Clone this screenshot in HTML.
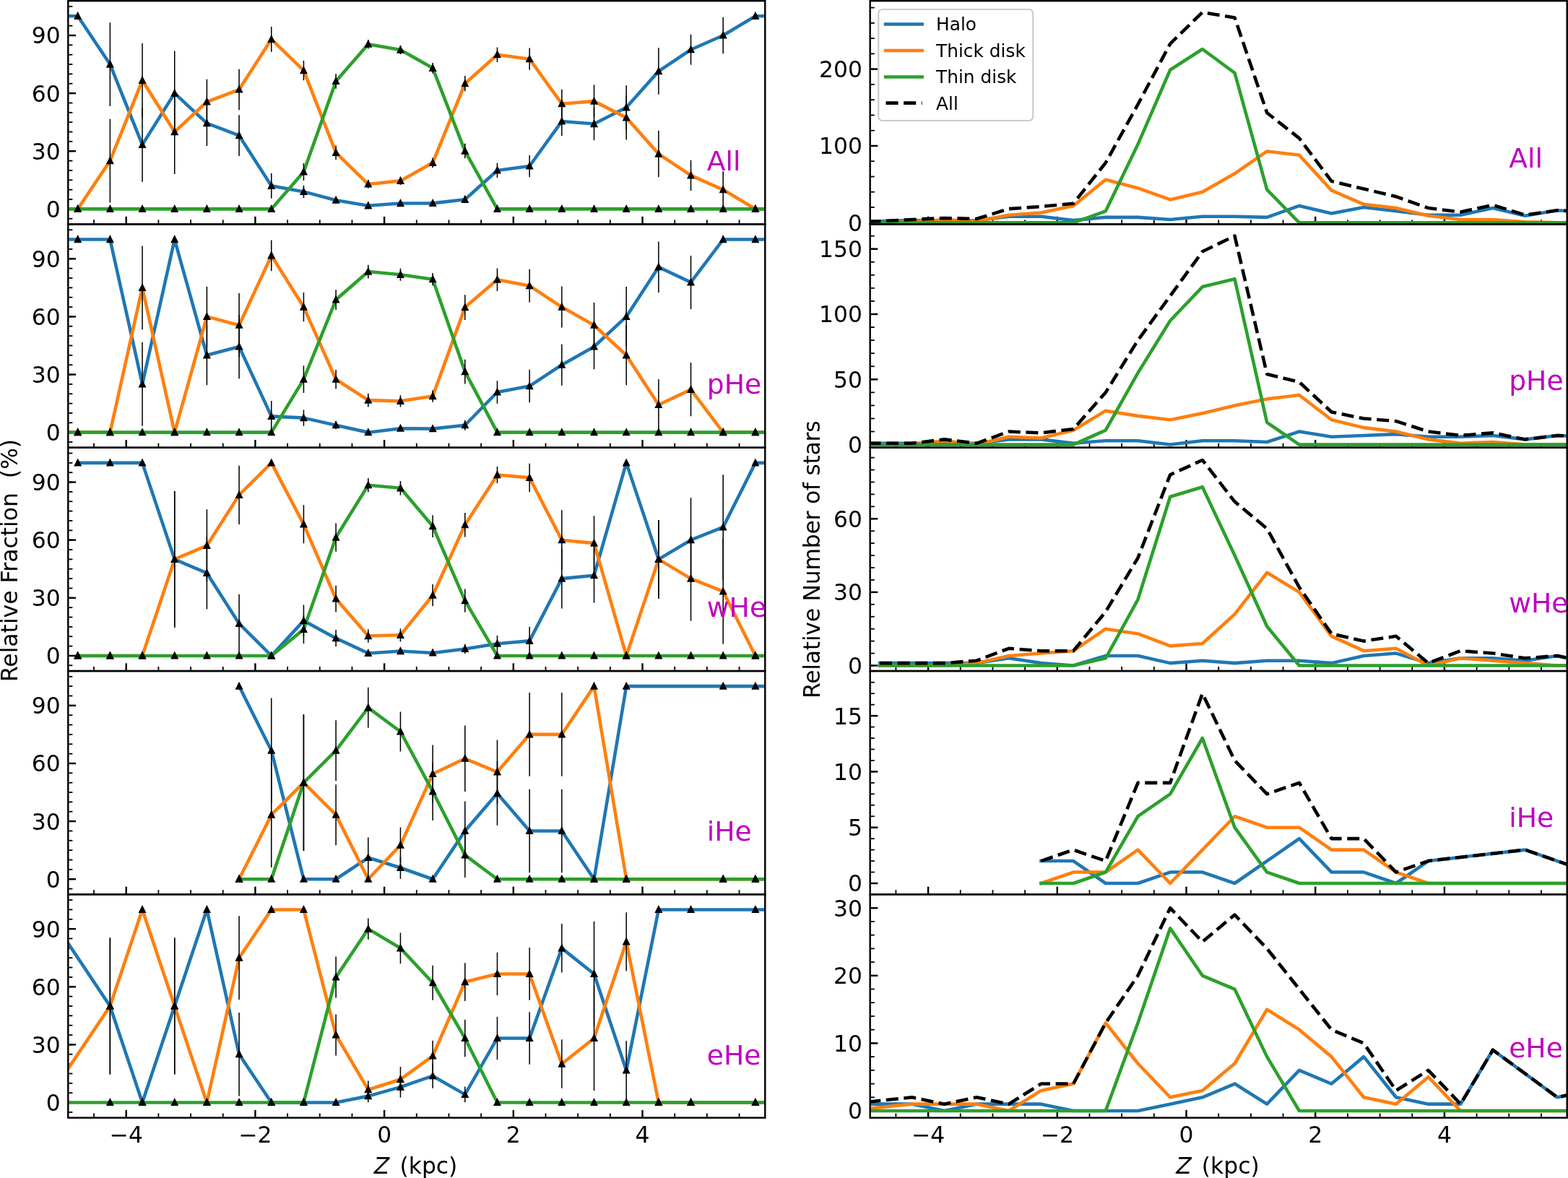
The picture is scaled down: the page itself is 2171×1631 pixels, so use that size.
<!DOCTYPE html><html><head><meta charset="utf-8"><style>html,body{margin:0;padding:0;background:#fff;overflow:hidden}svg{display:block}text{font-family:"DejaVu Sans","Liberation Sans",sans-serif}</style></head><body>
<svg width="2171" height="1631" viewBox="0 0 2171 1631">
<rect width="2171" height="1631" fill="#fff"/>
<defs><path id="tri" d="M0,-6.47 L-5.53,4.58 L5.53,4.58 Z"/>
<clipPath id="c00"><rect x="94.3" y="1.2" width="965" height="309.28"/></clipPath>
<clipPath id="c01"><rect x="94.3" y="310.48" width="965" height="309.28"/></clipPath>
<clipPath id="c02"><rect x="94.3" y="619.76" width="965" height="309.28"/></clipPath>
<clipPath id="c03"><rect x="94.3" y="929.04" width="965" height="309.28"/></clipPath>
<clipPath id="c04"><rect x="94.3" y="1238.32" width="965" height="309.28"/></clipPath>
<clipPath id="c10"><rect x="1204.7" y="1.2" width="965" height="309.28"/></clipPath>
<clipPath id="c11"><rect x="1204.7" y="310.48" width="965" height="309.28"/></clipPath>
<clipPath id="c12"><rect x="1204.7" y="619.76" width="965" height="309.28"/></clipPath>
<clipPath id="c13"><rect x="1204.7" y="929.04" width="965" height="309.28"/></clipPath>
<clipPath id="c14"><rect x="1204.7" y="1238.32" width="965" height="309.28"/></clipPath>
</defs>
<line x1="130.04" y1="310.48" x2="130.04" y2="304.37" stroke="#000" stroke-width="1.83"/>
<line x1="174.72" y1="310.48" x2="174.72" y2="299.79" stroke="#000" stroke-width="2.44"/>
<line x1="219.39" y1="310.48" x2="219.39" y2="304.37" stroke="#000" stroke-width="1.83"/>
<line x1="264.07" y1="310.48" x2="264.07" y2="304.37" stroke="#000" stroke-width="1.83"/>
<line x1="308.74" y1="310.48" x2="308.74" y2="304.37" stroke="#000" stroke-width="1.83"/>
<line x1="353.42" y1="310.48" x2="353.42" y2="299.79" stroke="#000" stroke-width="2.44"/>
<line x1="398.1" y1="310.48" x2="398.1" y2="304.37" stroke="#000" stroke-width="1.83"/>
<line x1="442.77" y1="310.48" x2="442.77" y2="304.37" stroke="#000" stroke-width="1.83"/>
<line x1="487.45" y1="310.48" x2="487.45" y2="304.37" stroke="#000" stroke-width="1.83"/>
<line x1="532.12" y1="310.48" x2="532.12" y2="299.79" stroke="#000" stroke-width="2.44"/>
<line x1="576.8" y1="310.48" x2="576.8" y2="304.37" stroke="#000" stroke-width="1.83"/>
<line x1="621.48" y1="310.48" x2="621.48" y2="304.37" stroke="#000" stroke-width="1.83"/>
<line x1="666.15" y1="310.48" x2="666.15" y2="304.37" stroke="#000" stroke-width="1.83"/>
<line x1="710.83" y1="310.48" x2="710.83" y2="299.79" stroke="#000" stroke-width="2.44"/>
<line x1="755.5" y1="310.48" x2="755.5" y2="304.37" stroke="#000" stroke-width="1.83"/>
<line x1="800.18" y1="310.48" x2="800.18" y2="304.37" stroke="#000" stroke-width="1.83"/>
<line x1="844.86" y1="310.48" x2="844.86" y2="304.37" stroke="#000" stroke-width="1.83"/>
<line x1="889.53" y1="310.48" x2="889.53" y2="299.79" stroke="#000" stroke-width="2.44"/>
<line x1="934.21" y1="310.48" x2="934.21" y2="304.37" stroke="#000" stroke-width="1.83"/>
<line x1="978.88" y1="310.48" x2="978.88" y2="304.37" stroke="#000" stroke-width="1.83"/>
<line x1="1023.56" y1="310.48" x2="1023.56" y2="304.37" stroke="#000" stroke-width="1.83"/>
<line x1="94.3" y1="302.73" x2="100.41" y2="302.73" stroke="#000" stroke-width="1.83"/>
<line x1="94.3" y1="289.38" x2="100.41" y2="289.38" stroke="#000" stroke-width="1.83"/>
<line x1="94.3" y1="276.03" x2="100.41" y2="276.03" stroke="#000" stroke-width="1.83"/>
<line x1="94.3" y1="262.67" x2="100.41" y2="262.67" stroke="#000" stroke-width="1.83"/>
<line x1="94.3" y1="249.32" x2="100.41" y2="249.32" stroke="#000" stroke-width="1.83"/>
<line x1="94.3" y1="235.96" x2="100.41" y2="235.96" stroke="#000" stroke-width="1.83"/>
<line x1="94.3" y1="222.61" x2="100.41" y2="222.61" stroke="#000" stroke-width="1.83"/>
<line x1="94.3" y1="209.26" x2="100.41" y2="209.26" stroke="#000" stroke-width="1.83"/>
<line x1="94.3" y1="195.9" x2="100.41" y2="195.9" stroke="#000" stroke-width="1.83"/>
<line x1="94.3" y1="182.55" x2="100.41" y2="182.55" stroke="#000" stroke-width="1.83"/>
<line x1="94.3" y1="169.19" x2="100.41" y2="169.19" stroke="#000" stroke-width="1.83"/>
<line x1="94.3" y1="155.84" x2="100.41" y2="155.84" stroke="#000" stroke-width="1.83"/>
<line x1="94.3" y1="142.49" x2="100.41" y2="142.49" stroke="#000" stroke-width="1.83"/>
<line x1="94.3" y1="129.13" x2="100.41" y2="129.13" stroke="#000" stroke-width="1.83"/>
<line x1="94.3" y1="115.78" x2="100.41" y2="115.78" stroke="#000" stroke-width="1.83"/>
<line x1="94.3" y1="102.42" x2="100.41" y2="102.42" stroke="#000" stroke-width="1.83"/>
<line x1="94.3" y1="89.07" x2="100.41" y2="89.07" stroke="#000" stroke-width="1.83"/>
<line x1="94.3" y1="75.72" x2="100.41" y2="75.72" stroke="#000" stroke-width="1.83"/>
<line x1="94.3" y1="62.36" x2="100.41" y2="62.36" stroke="#000" stroke-width="1.83"/>
<line x1="94.3" y1="49.01" x2="100.41" y2="49.01" stroke="#000" stroke-width="1.83"/>
<line x1="94.3" y1="35.65" x2="100.41" y2="35.65" stroke="#000" stroke-width="1.83"/>
<line x1="94.3" y1="22.3" x2="100.41" y2="22.3" stroke="#000" stroke-width="1.83"/>
<line x1="94.3" y1="8.95" x2="100.41" y2="8.95" stroke="#000" stroke-width="1.83"/>
<line x1="94.3" y1="289.38" x2="104.99" y2="289.38" stroke="#000" stroke-width="2.44"/>
<line x1="94.3" y1="209.26" x2="104.99" y2="209.26" stroke="#000" stroke-width="2.44"/>
<line x1="94.3" y1="129.13" x2="104.99" y2="129.13" stroke="#000" stroke-width="2.44"/>
<line x1="94.3" y1="49.01" x2="104.99" y2="49.01" stroke="#000" stroke-width="2.44"/>
<g clip-path="url(#c00)"><path d="M63.03,22.3 L107.7,22.3 L152.38,89.07 L197.05,200.35 L241.73,129.13 L286.41,170.68 L331.08,187.64 L375.76,257.33 L420.43,265.41 L465.11,277.24 L509.79,284.8 L554.46,281.58 L599.14,281.38 L643.81,276.31 L688.49,235.96 L733.17,230.03 L777.84,167.98 L822.52,171.55 L867.19,148.81 L911.87,98.61 L956.55,68.75 L1001.22,49.01 L1045.9,22.3 L1090.57,22.3" fill="none" stroke="#1f77b4" stroke-width="4.58" stroke-linecap="square" stroke-linejoin="round"/><path d="M63.03,289.38 L107.7,289.38 L152.38,222.61 L197.05,111.33 L241.73,182.55 L286.41,141 L331.08,124.04 L375.76,54.35 L420.43,97.63 L465.11,211.34 L509.79,254.99 L554.46,250.39 L599.14,225.36 L643.81,115.68 L688.49,75.72 L733.17,81.65 L777.84,143.7 L822.52,140.13 L867.19,162.87 L911.87,213.07 L956.55,242.93 L1001.22,262.67 L1045.9,289.38 L1090.57,289.38" fill="none" stroke="#ff7f0e" stroke-width="4.58" stroke-linecap="square" stroke-linejoin="round"/><path d="M63.03,289.38 L107.7,289.38 L152.38,289.38 L197.05,289.38 L241.73,289.38 L286.41,289.38 L331.08,289.38 L375.76,289.38 L420.43,238.02 L465.11,112.48 L509.79,61.27 L554.46,69.09 L599.14,94.32 L643.81,209.07 L688.49,289.38 L733.17,289.38 L777.84,289.38 L822.52,289.38 L867.19,289.38 L911.87,289.38 L956.55,289.38 L1001.22,289.38 L1045.9,289.38 L1090.57,289.38" fill="none" stroke="#2ca02c" stroke-width="4.58" stroke-linecap="square" stroke-linejoin="round"/><line x1="152.38" y1="31.24" x2="152.38" y2="146.89" stroke="#000" stroke-width="1.53"/><line x1="197.05" y1="148.95" x2="197.05" y2="251.75" stroke="#000" stroke-width="1.53"/><line x1="241.73" y1="70.62" x2="241.73" y2="187.65" stroke="#000" stroke-width="1.53"/><line x1="286.41" y1="139.4" x2="286.41" y2="201.96" stroke="#000" stroke-width="1.53"/><line x1="331.08" y1="159.33" x2="331.08" y2="215.94" stroke="#000" stroke-width="1.53"/><line x1="375.76" y1="239.97" x2="375.76" y2="274.69" stroke="#000" stroke-width="1.53"/><line x1="420.43" y1="256.77" x2="420.43" y2="274.06" stroke="#000" stroke-width="1.53"/><line x1="465.11" y1="272.76" x2="465.11" y2="281.72" stroke="#000" stroke-width="1.53"/><line x1="509.79" y1="282.52" x2="509.79" y2="287.07" stroke="#000" stroke-width="1.53"/><line x1="554.46" y1="278.87" x2="554.46" y2="284.3" stroke="#000" stroke-width="1.53"/><line x1="599.14" y1="278.59" x2="599.14" y2="284.16" stroke="#000" stroke-width="1.53"/><line x1="643.81" y1="271.49" x2="643.81" y2="281.13" stroke="#000" stroke-width="1.53"/><line x1="688.49" y1="225.78" x2="688.49" y2="246.15" stroke="#000" stroke-width="1.53"/><line x1="733.17" y1="214.92" x2="733.17" y2="245.14" stroke="#000" stroke-width="1.53"/><line x1="777.84" y1="147.93" x2="777.84" y2="188.03" stroke="#000" stroke-width="1.53"/><line x1="822.52" y1="148.81" x2="822.52" y2="194.29" stroke="#000" stroke-width="1.53"/><line x1="867.19" y1="118.22" x2="867.19" y2="179.41" stroke="#000" stroke-width="1.53"/><line x1="911.87" y1="66.36" x2="911.87" y2="130.85" stroke="#000" stroke-width="1.53"/><line x1="956.55" y1="47.64" x2="956.55" y2="89.86" stroke="#000" stroke-width="1.53"/><line x1="1001.22" y1="23.67" x2="1001.22" y2="74.35" stroke="#000" stroke-width="1.53"/><line x1="152.38" y1="164.79" x2="152.38" y2="280.44" stroke="#000" stroke-width="1.53"/><line x1="197.05" y1="59.93" x2="197.05" y2="162.73" stroke="#000" stroke-width="1.53"/><line x1="241.73" y1="124.03" x2="241.73" y2="241.06" stroke="#000" stroke-width="1.53"/><line x1="286.41" y1="109.72" x2="286.41" y2="172.28" stroke="#000" stroke-width="1.53"/><line x1="331.08" y1="95.74" x2="331.08" y2="152.35" stroke="#000" stroke-width="1.53"/><line x1="375.76" y1="36.99" x2="375.76" y2="71.71" stroke="#000" stroke-width="1.53"/><line x1="420.43" y1="84.02" x2="420.43" y2="111.24" stroke="#000" stroke-width="1.53"/><line x1="465.11" y1="201.55" x2="465.11" y2="221.13" stroke="#000" stroke-width="1.53"/><line x1="509.79" y1="249.13" x2="509.79" y2="260.85" stroke="#000" stroke-width="1.53"/><line x1="554.46" y1="244.69" x2="554.46" y2="256.09" stroke="#000" stroke-width="1.53"/><line x1="599.14" y1="218.38" x2="599.14" y2="232.34" stroke="#000" stroke-width="1.53"/><line x1="643.81" y1="105.03" x2="643.81" y2="126.33" stroke="#000" stroke-width="1.53"/><line x1="688.49" y1="65.53" x2="688.49" y2="85.9" stroke="#000" stroke-width="1.53"/><line x1="733.17" y1="66.54" x2="733.17" y2="96.76" stroke="#000" stroke-width="1.53"/><line x1="777.84" y1="123.65" x2="777.84" y2="163.75" stroke="#000" stroke-width="1.53"/><line x1="822.52" y1="117.39" x2="822.52" y2="162.87" stroke="#000" stroke-width="1.53"/><line x1="867.19" y1="132.27" x2="867.19" y2="193.46" stroke="#000" stroke-width="1.53"/><line x1="911.87" y1="180.83" x2="911.87" y2="245.32" stroke="#000" stroke-width="1.53"/><line x1="956.55" y1="221.82" x2="956.55" y2="264.04" stroke="#000" stroke-width="1.53"/><line x1="1001.22" y1="237.33" x2="1001.22" y2="288.01" stroke="#000" stroke-width="1.53"/><line x1="420.43" y1="226.1" x2="420.43" y2="249.94" stroke="#000" stroke-width="1.53"/><line x1="465.11" y1="102.3" x2="465.11" y2="122.66" stroke="#000" stroke-width="1.53"/><line x1="509.79" y1="55.1" x2="509.79" y2="67.45" stroke="#000" stroke-width="1.53"/><line x1="554.46" y1="62.95" x2="554.46" y2="75.22" stroke="#000" stroke-width="1.53"/><line x1="599.14" y1="87.07" x2="599.14" y2="101.58" stroke="#000" stroke-width="1.53"/><line x1="643.81" y1="198.83" x2="643.81" y2="219.31" stroke="#000" stroke-width="1.53"/><use href="#tri" x="63.03" y="22.3"/><use href="#tri" x="107.7" y="22.3"/><use href="#tri" x="152.38" y="89.07"/><use href="#tri" x="197.05" y="200.35"/><use href="#tri" x="241.73" y="129.13"/><use href="#tri" x="286.41" y="170.68"/><use href="#tri" x="331.08" y="187.64"/><use href="#tri" x="375.76" y="257.33"/><use href="#tri" x="420.43" y="265.41"/><use href="#tri" x="465.11" y="277.24"/><use href="#tri" x="509.79" y="284.8"/><use href="#tri" x="554.46" y="281.58"/><use href="#tri" x="599.14" y="281.38"/><use href="#tri" x="643.81" y="276.31"/><use href="#tri" x="688.49" y="235.96"/><use href="#tri" x="733.17" y="230.03"/><use href="#tri" x="777.84" y="167.98"/><use href="#tri" x="822.52" y="171.55"/><use href="#tri" x="867.19" y="148.81"/><use href="#tri" x="911.87" y="98.61"/><use href="#tri" x="956.55" y="68.75"/><use href="#tri" x="1001.22" y="49.01"/><use href="#tri" x="1045.9" y="22.3"/><use href="#tri" x="1090.57" y="22.3"/><use href="#tri" x="63.03" y="289.38"/><use href="#tri" x="107.7" y="289.38"/><use href="#tri" x="152.38" y="222.61"/><use href="#tri" x="197.05" y="111.33"/><use href="#tri" x="241.73" y="182.55"/><use href="#tri" x="286.41" y="141"/><use href="#tri" x="331.08" y="124.04"/><use href="#tri" x="375.76" y="54.35"/><use href="#tri" x="420.43" y="97.63"/><use href="#tri" x="465.11" y="211.34"/><use href="#tri" x="509.79" y="254.99"/><use href="#tri" x="554.46" y="250.39"/><use href="#tri" x="599.14" y="225.36"/><use href="#tri" x="643.81" y="115.68"/><use href="#tri" x="688.49" y="75.72"/><use href="#tri" x="733.17" y="81.65"/><use href="#tri" x="777.84" y="143.7"/><use href="#tri" x="822.52" y="140.13"/><use href="#tri" x="867.19" y="162.87"/><use href="#tri" x="911.87" y="213.07"/><use href="#tri" x="956.55" y="242.93"/><use href="#tri" x="1001.22" y="262.67"/><use href="#tri" x="1045.9" y="289.38"/><use href="#tri" x="1090.57" y="289.38"/><use href="#tri" x="63.03" y="289.38"/><use href="#tri" x="107.7" y="289.38"/><use href="#tri" x="152.38" y="289.38"/><use href="#tri" x="197.05" y="289.38"/><use href="#tri" x="241.73" y="289.38"/><use href="#tri" x="286.41" y="289.38"/><use href="#tri" x="331.08" y="289.38"/><use href="#tri" x="375.76" y="289.38"/><use href="#tri" x="420.43" y="238.02"/><use href="#tri" x="465.11" y="112.48"/><use href="#tri" x="509.79" y="61.27"/><use href="#tri" x="554.46" y="69.09"/><use href="#tri" x="599.14" y="94.32"/><use href="#tri" x="643.81" y="209.07"/><use href="#tri" x="688.49" y="289.38"/><use href="#tri" x="733.17" y="289.38"/><use href="#tri" x="777.84" y="289.38"/><use href="#tri" x="822.52" y="289.38"/><use href="#tri" x="867.19" y="289.38"/><use href="#tri" x="911.87" y="289.38"/><use href="#tri" x="956.55" y="289.38"/><use href="#tri" x="1001.22" y="289.38"/><use href="#tri" x="1045.9" y="289.38"/><use href="#tri" x="1090.57" y="289.38"/></g>
<rect x="94.3" y="1.2" width="965" height="309.28" fill="none" stroke="#000" stroke-width="2.44"/>
<text x="83.61" y="300.78" font-size="31.4" text-anchor="end">0</text>
<text x="83.61" y="220.66" font-size="31.4" text-anchor="end">30</text>
<text x="83.61" y="140.53" font-size="31.4" text-anchor="end">60</text>
<text x="83.61" y="60.41" font-size="31.4" text-anchor="end">90</text>
<text x="978.8" y="235.8" font-size="37.7" fill="#bf00bf">All</text>
<line x1="130.04" y1="619.76" x2="130.04" y2="613.65" stroke="#000" stroke-width="1.83"/>
<line x1="174.72" y1="619.76" x2="174.72" y2="609.07" stroke="#000" stroke-width="2.44"/>
<line x1="219.39" y1="619.76" x2="219.39" y2="613.65" stroke="#000" stroke-width="1.83"/>
<line x1="264.07" y1="619.76" x2="264.07" y2="613.65" stroke="#000" stroke-width="1.83"/>
<line x1="308.74" y1="619.76" x2="308.74" y2="613.65" stroke="#000" stroke-width="1.83"/>
<line x1="353.42" y1="619.76" x2="353.42" y2="609.07" stroke="#000" stroke-width="2.44"/>
<line x1="398.1" y1="619.76" x2="398.1" y2="613.65" stroke="#000" stroke-width="1.83"/>
<line x1="442.77" y1="619.76" x2="442.77" y2="613.65" stroke="#000" stroke-width="1.83"/>
<line x1="487.45" y1="619.76" x2="487.45" y2="613.65" stroke="#000" stroke-width="1.83"/>
<line x1="532.12" y1="619.76" x2="532.12" y2="609.07" stroke="#000" stroke-width="2.44"/>
<line x1="576.8" y1="619.76" x2="576.8" y2="613.65" stroke="#000" stroke-width="1.83"/>
<line x1="621.48" y1="619.76" x2="621.48" y2="613.65" stroke="#000" stroke-width="1.83"/>
<line x1="666.15" y1="619.76" x2="666.15" y2="613.65" stroke="#000" stroke-width="1.83"/>
<line x1="710.83" y1="619.76" x2="710.83" y2="609.07" stroke="#000" stroke-width="2.44"/>
<line x1="755.5" y1="619.76" x2="755.5" y2="613.65" stroke="#000" stroke-width="1.83"/>
<line x1="800.18" y1="619.76" x2="800.18" y2="613.65" stroke="#000" stroke-width="1.83"/>
<line x1="844.86" y1="619.76" x2="844.86" y2="613.65" stroke="#000" stroke-width="1.83"/>
<line x1="889.53" y1="619.76" x2="889.53" y2="609.07" stroke="#000" stroke-width="2.44"/>
<line x1="934.21" y1="619.76" x2="934.21" y2="613.65" stroke="#000" stroke-width="1.83"/>
<line x1="978.88" y1="619.76" x2="978.88" y2="613.65" stroke="#000" stroke-width="1.83"/>
<line x1="1023.56" y1="619.76" x2="1023.56" y2="613.65" stroke="#000" stroke-width="1.83"/>
<line x1="94.3" y1="612.01" x2="100.41" y2="612.01" stroke="#000" stroke-width="1.83"/>
<line x1="94.3" y1="598.66" x2="100.41" y2="598.66" stroke="#000" stroke-width="1.83"/>
<line x1="94.3" y1="585.31" x2="100.41" y2="585.31" stroke="#000" stroke-width="1.83"/>
<line x1="94.3" y1="571.95" x2="100.41" y2="571.95" stroke="#000" stroke-width="1.83"/>
<line x1="94.3" y1="558.6" x2="100.41" y2="558.6" stroke="#000" stroke-width="1.83"/>
<line x1="94.3" y1="545.24" x2="100.41" y2="545.24" stroke="#000" stroke-width="1.83"/>
<line x1="94.3" y1="531.89" x2="100.41" y2="531.89" stroke="#000" stroke-width="1.83"/>
<line x1="94.3" y1="518.54" x2="100.41" y2="518.54" stroke="#000" stroke-width="1.83"/>
<line x1="94.3" y1="505.18" x2="100.41" y2="505.18" stroke="#000" stroke-width="1.83"/>
<line x1="94.3" y1="491.83" x2="100.41" y2="491.83" stroke="#000" stroke-width="1.83"/>
<line x1="94.3" y1="478.47" x2="100.41" y2="478.47" stroke="#000" stroke-width="1.83"/>
<line x1="94.3" y1="465.12" x2="100.41" y2="465.12" stroke="#000" stroke-width="1.83"/>
<line x1="94.3" y1="451.77" x2="100.41" y2="451.77" stroke="#000" stroke-width="1.83"/>
<line x1="94.3" y1="438.41" x2="100.41" y2="438.41" stroke="#000" stroke-width="1.83"/>
<line x1="94.3" y1="425.06" x2="100.41" y2="425.06" stroke="#000" stroke-width="1.83"/>
<line x1="94.3" y1="411.7" x2="100.41" y2="411.7" stroke="#000" stroke-width="1.83"/>
<line x1="94.3" y1="398.35" x2="100.41" y2="398.35" stroke="#000" stroke-width="1.83"/>
<line x1="94.3" y1="385" x2="100.41" y2="385" stroke="#000" stroke-width="1.83"/>
<line x1="94.3" y1="371.64" x2="100.41" y2="371.64" stroke="#000" stroke-width="1.83"/>
<line x1="94.3" y1="358.29" x2="100.41" y2="358.29" stroke="#000" stroke-width="1.83"/>
<line x1="94.3" y1="344.93" x2="100.41" y2="344.93" stroke="#000" stroke-width="1.83"/>
<line x1="94.3" y1="331.58" x2="100.41" y2="331.58" stroke="#000" stroke-width="1.83"/>
<line x1="94.3" y1="318.23" x2="100.41" y2="318.23" stroke="#000" stroke-width="1.83"/>
<line x1="94.3" y1="598.66" x2="104.99" y2="598.66" stroke="#000" stroke-width="2.44"/>
<line x1="94.3" y1="518.54" x2="104.99" y2="518.54" stroke="#000" stroke-width="2.44"/>
<line x1="94.3" y1="438.41" x2="104.99" y2="438.41" stroke="#000" stroke-width="2.44"/>
<line x1="94.3" y1="358.29" x2="104.99" y2="358.29" stroke="#000" stroke-width="2.44"/>
<g clip-path="url(#c01)"><path d="M63.03,331.58 L107.7,331.58 L152.38,331.58 L197.05,531.89 L241.73,331.58 L286.41,491.83 L331.08,479.96 L375.76,576.4 L420.43,578.63 L465.11,588.65 L509.79,598.66 L554.46,593.25 L599.14,593.65 L643.81,588.77 L688.49,543.02 L733.17,534.56 L777.84,505.18 L822.52,479.96 L867.19,438.41 L911.87,369.73 L956.55,390.93 L1001.22,331.58 L1045.9,331.58 L1090.57,331.58" fill="none" stroke="#1f77b4" stroke-width="4.58" stroke-linecap="square" stroke-linejoin="round"/><path d="M63.03,598.66 L107.7,598.66 L152.38,598.66 L197.05,398.35 L241.73,598.66 L286.41,438.41 L331.08,450.28 L375.76,353.84 L420.43,425.06 L465.11,525.21 L509.79,554.15 L554.46,555.35 L599.14,548.58 L643.81,425.55 L688.49,387.22 L733.17,395.68 L777.84,425.06 L822.52,450.28 L867.19,491.83 L911.87,560.51 L956.55,539.31 L1001.22,598.66 L1045.9,598.66 L1090.57,598.66" fill="none" stroke="#ff7f0e" stroke-width="4.58" stroke-linecap="square" stroke-linejoin="round"/><path d="M63.03,598.66 L107.7,598.66 L152.38,598.66 L197.05,598.66 L241.73,598.66 L286.41,598.66 L331.08,598.66 L375.76,598.66 L420.43,525.21 L465.11,415.04 L509.79,376.09 L554.46,380.3 L599.14,386.66 L643.81,514.58 L688.49,598.66 L733.17,598.66 L777.84,598.66 L822.52,598.66 L867.19,598.66 L911.87,598.66 L956.55,598.66 L1001.22,598.66 L1045.9,598.66 L1090.57,598.66" fill="none" stroke="#2ca02c" stroke-width="4.58" stroke-linecap="square" stroke-linejoin="round"/><line x1="197.05" y1="474.07" x2="197.05" y2="589.72" stroke="#000" stroke-width="1.53"/><line x1="286.41" y1="450.45" x2="286.41" y2="533.2" stroke="#000" stroke-width="1.53"/><line x1="331.08" y1="435.72" x2="331.08" y2="524.2" stroke="#000" stroke-width="1.53"/><line x1="375.76" y1="555.09" x2="375.76" y2="597.71" stroke="#000" stroke-width="1.53"/><line x1="420.43" y1="567.51" x2="420.43" y2="589.75" stroke="#000" stroke-width="1.53"/><line x1="465.11" y1="582.97" x2="465.11" y2="594.32" stroke="#000" stroke-width="1.53"/><line x1="554.46" y1="590.15" x2="554.46" y2="596.34" stroke="#000" stroke-width="1.53"/><line x1="599.14" y1="590.79" x2="599.14" y2="596.52" stroke="#000" stroke-width="1.53"/><line x1="643.81" y1="581.9" x2="643.81" y2="595.63" stroke="#000" stroke-width="1.53"/><line x1="688.49" y1="527.36" x2="688.49" y2="558.67" stroke="#000" stroke-width="1.53"/><line x1="733.17" y1="511.75" x2="733.17" y2="557.37" stroke="#000" stroke-width="1.53"/><line x1="777.84" y1="476.7" x2="777.84" y2="533.67" stroke="#000" stroke-width="1.53"/><line x1="822.52" y1="448.68" x2="822.52" y2="511.24" stroke="#000" stroke-width="1.53"/><line x1="867.19" y1="397.04" x2="867.19" y2="479.79" stroke="#000" stroke-width="1.53"/><line x1="911.87" y1="334.41" x2="911.87" y2="405.06" stroke="#000" stroke-width="1.53"/><line x1="956.55" y1="353.92" x2="956.55" y2="427.94" stroke="#000" stroke-width="1.53"/><line x1="197.05" y1="340.52" x2="197.05" y2="456.17" stroke="#000" stroke-width="1.53"/><line x1="286.41" y1="397.04" x2="286.41" y2="479.79" stroke="#000" stroke-width="1.53"/><line x1="331.08" y1="406.04" x2="331.08" y2="494.52" stroke="#000" stroke-width="1.53"/><line x1="375.76" y1="332.53" x2="375.76" y2="375.15" stroke="#000" stroke-width="1.53"/><line x1="420.43" y1="404.92" x2="420.43" y2="445.2" stroke="#000" stroke-width="1.53"/><line x1="465.11" y1="511.88" x2="465.11" y2="538.55" stroke="#000" stroke-width="1.53"/><line x1="509.79" y1="544.82" x2="509.79" y2="563.47" stroke="#000" stroke-width="1.53"/><line x1="554.46" y1="547.26" x2="554.46" y2="563.44" stroke="#000" stroke-width="1.53"/><line x1="599.14" y1="540.34" x2="599.14" y2="556.82" stroke="#000" stroke-width="1.53"/><line x1="643.81" y1="408.2" x2="643.81" y2="442.91" stroke="#000" stroke-width="1.53"/><line x1="688.49" y1="371.57" x2="688.49" y2="402.88" stroke="#000" stroke-width="1.53"/><line x1="733.17" y1="372.87" x2="733.17" y2="418.49" stroke="#000" stroke-width="1.53"/><line x1="777.84" y1="396.57" x2="777.84" y2="453.54" stroke="#000" stroke-width="1.53"/><line x1="822.52" y1="419" x2="822.52" y2="481.56" stroke="#000" stroke-width="1.53"/><line x1="867.19" y1="450.45" x2="867.19" y2="533.2" stroke="#000" stroke-width="1.53"/><line x1="911.87" y1="525.18" x2="911.87" y2="595.83" stroke="#000" stroke-width="1.53"/><line x1="956.55" y1="502.3" x2="956.55" y2="576.32" stroke="#000" stroke-width="1.53"/><line x1="420.43" y1="506.36" x2="420.43" y2="544.07" stroke="#000" stroke-width="1.53"/><line x1="465.11" y1="401.2" x2="465.11" y2="428.88" stroke="#000" stroke-width="1.53"/><line x1="509.79" y1="366.77" x2="509.79" y2="385.42" stroke="#000" stroke-width="1.53"/><line x1="554.46" y1="371.83" x2="554.46" y2="388.78" stroke="#000" stroke-width="1.53"/><line x1="599.14" y1="378.12" x2="599.14" y2="395.21" stroke="#000" stroke-width="1.53"/><line x1="643.81" y1="497.7" x2="643.81" y2="531.46" stroke="#000" stroke-width="1.53"/><use href="#tri" x="63.03" y="331.58"/><use href="#tri" x="107.7" y="331.58"/><use href="#tri" x="152.38" y="331.58"/><use href="#tri" x="197.05" y="531.89"/><use href="#tri" x="241.73" y="331.58"/><use href="#tri" x="286.41" y="491.83"/><use href="#tri" x="331.08" y="479.96"/><use href="#tri" x="375.76" y="576.4"/><use href="#tri" x="420.43" y="578.63"/><use href="#tri" x="465.11" y="588.65"/><use href="#tri" x="509.79" y="598.66"/><use href="#tri" x="554.46" y="593.25"/><use href="#tri" x="599.14" y="593.65"/><use href="#tri" x="643.81" y="588.77"/><use href="#tri" x="688.49" y="543.02"/><use href="#tri" x="733.17" y="534.56"/><use href="#tri" x="777.84" y="505.18"/><use href="#tri" x="822.52" y="479.96"/><use href="#tri" x="867.19" y="438.41"/><use href="#tri" x="911.87" y="369.73"/><use href="#tri" x="956.55" y="390.93"/><use href="#tri" x="1001.22" y="331.58"/><use href="#tri" x="1045.9" y="331.58"/><use href="#tri" x="1090.57" y="331.58"/><use href="#tri" x="63.03" y="598.66"/><use href="#tri" x="107.7" y="598.66"/><use href="#tri" x="152.38" y="598.66"/><use href="#tri" x="197.05" y="398.35"/><use href="#tri" x="241.73" y="598.66"/><use href="#tri" x="286.41" y="438.41"/><use href="#tri" x="331.08" y="450.28"/><use href="#tri" x="375.76" y="353.84"/><use href="#tri" x="420.43" y="425.06"/><use href="#tri" x="465.11" y="525.21"/><use href="#tri" x="509.79" y="554.15"/><use href="#tri" x="554.46" y="555.35"/><use href="#tri" x="599.14" y="548.58"/><use href="#tri" x="643.81" y="425.55"/><use href="#tri" x="688.49" y="387.22"/><use href="#tri" x="733.17" y="395.68"/><use href="#tri" x="777.84" y="425.06"/><use href="#tri" x="822.52" y="450.28"/><use href="#tri" x="867.19" y="491.83"/><use href="#tri" x="911.87" y="560.51"/><use href="#tri" x="956.55" y="539.31"/><use href="#tri" x="1001.22" y="598.66"/><use href="#tri" x="1045.9" y="598.66"/><use href="#tri" x="1090.57" y="598.66"/><use href="#tri" x="63.03" y="598.66"/><use href="#tri" x="107.7" y="598.66"/><use href="#tri" x="152.38" y="598.66"/><use href="#tri" x="197.05" y="598.66"/><use href="#tri" x="241.73" y="598.66"/><use href="#tri" x="286.41" y="598.66"/><use href="#tri" x="331.08" y="598.66"/><use href="#tri" x="375.76" y="598.66"/><use href="#tri" x="420.43" y="525.21"/><use href="#tri" x="465.11" y="415.04"/><use href="#tri" x="509.79" y="376.09"/><use href="#tri" x="554.46" y="380.3"/><use href="#tri" x="599.14" y="386.66"/><use href="#tri" x="643.81" y="514.58"/><use href="#tri" x="688.49" y="598.66"/><use href="#tri" x="733.17" y="598.66"/><use href="#tri" x="777.84" y="598.66"/><use href="#tri" x="822.52" y="598.66"/><use href="#tri" x="867.19" y="598.66"/><use href="#tri" x="911.87" y="598.66"/><use href="#tri" x="956.55" y="598.66"/><use href="#tri" x="1001.22" y="598.66"/><use href="#tri" x="1045.9" y="598.66"/><use href="#tri" x="1090.57" y="598.66"/></g>
<rect x="94.3" y="310.48" width="965" height="309.28" fill="none" stroke="#000" stroke-width="2.44"/>
<text x="83.61" y="610.06" font-size="31.4" text-anchor="end">0</text>
<text x="83.61" y="529.94" font-size="31.4" text-anchor="end">30</text>
<text x="83.61" y="449.81" font-size="31.4" text-anchor="end">60</text>
<text x="83.61" y="369.69" font-size="31.4" text-anchor="end">90</text>
<text x="978.8" y="544.5" font-size="37.7" fill="#bf00bf">pHe</text>
<line x1="130.04" y1="929.04" x2="130.04" y2="922.93" stroke="#000" stroke-width="1.83"/>
<line x1="174.72" y1="929.04" x2="174.72" y2="918.35" stroke="#000" stroke-width="2.44"/>
<line x1="219.39" y1="929.04" x2="219.39" y2="922.93" stroke="#000" stroke-width="1.83"/>
<line x1="264.07" y1="929.04" x2="264.07" y2="922.93" stroke="#000" stroke-width="1.83"/>
<line x1="308.74" y1="929.04" x2="308.74" y2="922.93" stroke="#000" stroke-width="1.83"/>
<line x1="353.42" y1="929.04" x2="353.42" y2="918.35" stroke="#000" stroke-width="2.44"/>
<line x1="398.1" y1="929.04" x2="398.1" y2="922.93" stroke="#000" stroke-width="1.83"/>
<line x1="442.77" y1="929.04" x2="442.77" y2="922.93" stroke="#000" stroke-width="1.83"/>
<line x1="487.45" y1="929.04" x2="487.45" y2="922.93" stroke="#000" stroke-width="1.83"/>
<line x1="532.12" y1="929.04" x2="532.12" y2="918.35" stroke="#000" stroke-width="2.44"/>
<line x1="576.8" y1="929.04" x2="576.8" y2="922.93" stroke="#000" stroke-width="1.83"/>
<line x1="621.48" y1="929.04" x2="621.48" y2="922.93" stroke="#000" stroke-width="1.83"/>
<line x1="666.15" y1="929.04" x2="666.15" y2="922.93" stroke="#000" stroke-width="1.83"/>
<line x1="710.83" y1="929.04" x2="710.83" y2="918.35" stroke="#000" stroke-width="2.44"/>
<line x1="755.5" y1="929.04" x2="755.5" y2="922.93" stroke="#000" stroke-width="1.83"/>
<line x1="800.18" y1="929.04" x2="800.18" y2="922.93" stroke="#000" stroke-width="1.83"/>
<line x1="844.86" y1="929.04" x2="844.86" y2="922.93" stroke="#000" stroke-width="1.83"/>
<line x1="889.53" y1="929.04" x2="889.53" y2="918.35" stroke="#000" stroke-width="2.44"/>
<line x1="934.21" y1="929.04" x2="934.21" y2="922.93" stroke="#000" stroke-width="1.83"/>
<line x1="978.88" y1="929.04" x2="978.88" y2="922.93" stroke="#000" stroke-width="1.83"/>
<line x1="1023.56" y1="929.04" x2="1023.56" y2="922.93" stroke="#000" stroke-width="1.83"/>
<line x1="94.3" y1="921.29" x2="100.41" y2="921.29" stroke="#000" stroke-width="1.83"/>
<line x1="94.3" y1="907.94" x2="100.41" y2="907.94" stroke="#000" stroke-width="1.83"/>
<line x1="94.3" y1="894.59" x2="100.41" y2="894.59" stroke="#000" stroke-width="1.83"/>
<line x1="94.3" y1="881.23" x2="100.41" y2="881.23" stroke="#000" stroke-width="1.83"/>
<line x1="94.3" y1="867.88" x2="100.41" y2="867.88" stroke="#000" stroke-width="1.83"/>
<line x1="94.3" y1="854.52" x2="100.41" y2="854.52" stroke="#000" stroke-width="1.83"/>
<line x1="94.3" y1="841.17" x2="100.41" y2="841.17" stroke="#000" stroke-width="1.83"/>
<line x1="94.3" y1="827.82" x2="100.41" y2="827.82" stroke="#000" stroke-width="1.83"/>
<line x1="94.3" y1="814.46" x2="100.41" y2="814.46" stroke="#000" stroke-width="1.83"/>
<line x1="94.3" y1="801.11" x2="100.41" y2="801.11" stroke="#000" stroke-width="1.83"/>
<line x1="94.3" y1="787.75" x2="100.41" y2="787.75" stroke="#000" stroke-width="1.83"/>
<line x1="94.3" y1="774.4" x2="100.41" y2="774.4" stroke="#000" stroke-width="1.83"/>
<line x1="94.3" y1="761.05" x2="100.41" y2="761.05" stroke="#000" stroke-width="1.83"/>
<line x1="94.3" y1="747.69" x2="100.41" y2="747.69" stroke="#000" stroke-width="1.83"/>
<line x1="94.3" y1="734.34" x2="100.41" y2="734.34" stroke="#000" stroke-width="1.83"/>
<line x1="94.3" y1="720.98" x2="100.41" y2="720.98" stroke="#000" stroke-width="1.83"/>
<line x1="94.3" y1="707.63" x2="100.41" y2="707.63" stroke="#000" stroke-width="1.83"/>
<line x1="94.3" y1="694.28" x2="100.41" y2="694.28" stroke="#000" stroke-width="1.83"/>
<line x1="94.3" y1="680.92" x2="100.41" y2="680.92" stroke="#000" stroke-width="1.83"/>
<line x1="94.3" y1="667.57" x2="100.41" y2="667.57" stroke="#000" stroke-width="1.83"/>
<line x1="94.3" y1="654.21" x2="100.41" y2="654.21" stroke="#000" stroke-width="1.83"/>
<line x1="94.3" y1="640.86" x2="100.41" y2="640.86" stroke="#000" stroke-width="1.83"/>
<line x1="94.3" y1="627.51" x2="100.41" y2="627.51" stroke="#000" stroke-width="1.83"/>
<line x1="94.3" y1="907.94" x2="104.99" y2="907.94" stroke="#000" stroke-width="2.44"/>
<line x1="94.3" y1="827.82" x2="104.99" y2="827.82" stroke="#000" stroke-width="2.44"/>
<line x1="94.3" y1="747.69" x2="104.99" y2="747.69" stroke="#000" stroke-width="2.44"/>
<line x1="94.3" y1="667.57" x2="104.99" y2="667.57" stroke="#000" stroke-width="2.44"/>
<g clip-path="url(#c02)"><path d="M107.7,640.86 L152.38,640.86 L197.05,640.86 L241.73,774.4 L286.41,793.48 L331.08,863.43 L375.76,907.94 L420.43,859.38 L465.11,883.66 L509.79,904.52 L554.46,901.58 L599.14,903.95 L643.81,898.4 L688.49,891.25 L733.17,887.4 L777.84,801.11 L822.52,796.66 L867.19,640.86 L911.87,774.4 L956.55,747.69 L1001.22,729.89 L1045.9,640.86 L1090.57,640.86" fill="none" stroke="#1f77b4" stroke-width="4.58" stroke-linecap="square" stroke-linejoin="round"/><path d="M107.7,907.94 L152.38,907.94 L197.05,907.94 L241.73,774.4 L286.41,755.32 L331.08,685.37 L375.76,640.86 L420.43,725.84 L465.11,829.03 L509.79,880.55 L554.46,879.32 L599.14,824.23 L643.81,726.71 L688.49,657.55 L733.17,661.4 L777.84,747.69 L822.52,752.14 L867.19,907.94 L911.87,774.4 L956.55,801.11 L1001.22,818.91 L1045.9,907.94 L1090.57,907.94" fill="none" stroke="#ff7f0e" stroke-width="4.58" stroke-linecap="square" stroke-linejoin="round"/><path d="M107.7,907.94 L152.38,907.94 L197.05,907.94 L241.73,907.94 L286.41,907.94 L331.08,907.94 L375.76,907.94 L420.43,871.52 L465.11,744.05 L509.79,671.68 L554.46,675.83 L599.14,728.56 L643.81,831.63 L688.49,907.94 L733.17,907.94 L777.84,907.94 L822.52,907.94 L867.19,907.94 L911.87,907.94 L956.55,907.94 L1001.22,907.94 L1045.9,907.94 L1090.57,907.94" fill="none" stroke="#2ca02c" stroke-width="4.58" stroke-linecap="square" stroke-linejoin="round"/><line x1="241.73" y1="679.97" x2="241.73" y2="868.83" stroke="#000" stroke-width="1.53"/><line x1="286.41" y1="743.52" x2="286.41" y2="843.43" stroke="#000" stroke-width="1.53"/><line x1="331.08" y1="822.79" x2="331.08" y2="904.06" stroke="#000" stroke-width="1.53"/><line x1="420.43" y1="837.42" x2="420.43" y2="881.34" stroke="#000" stroke-width="1.53"/><line x1="465.11" y1="872.09" x2="465.11" y2="895.24" stroke="#000" stroke-width="1.53"/><line x1="509.79" y1="901.11" x2="509.79" y2="907.92" stroke="#000" stroke-width="1.53"/><line x1="554.46" y1="897.14" x2="554.46" y2="906.02" stroke="#000" stroke-width="1.53"/><line x1="599.14" y1="900" x2="599.14" y2="907.91" stroke="#000" stroke-width="1.53"/><line x1="643.81" y1="891.78" x2="643.81" y2="905.03" stroke="#000" stroke-width="1.53"/><line x1="688.49" y1="879.82" x2="688.49" y2="902.68" stroke="#000" stroke-width="1.53"/><line x1="733.17" y1="867.66" x2="733.17" y2="907.13" stroke="#000" stroke-width="1.53"/><line x1="777.84" y1="759.73" x2="777.84" y2="842.48" stroke="#000" stroke-width="1.53"/><line x1="822.52" y1="758.65" x2="822.52" y2="834.67" stroke="#000" stroke-width="1.53"/><line x1="911.87" y1="719.88" x2="911.87" y2="828.92" stroke="#000" stroke-width="1.53"/><line x1="956.55" y1="689.18" x2="956.55" y2="806.21" stroke="#000" stroke-width="1.53"/><line x1="1001.22" y1="657.2" x2="1001.22" y2="802.58" stroke="#000" stroke-width="1.53"/><line x1="241.73" y1="679.97" x2="241.73" y2="868.83" stroke="#000" stroke-width="1.53"/><line x1="286.41" y1="705.37" x2="286.41" y2="805.28" stroke="#000" stroke-width="1.53"/><line x1="331.08" y1="644.74" x2="331.08" y2="726.01" stroke="#000" stroke-width="1.53"/><line x1="420.43" y1="699.32" x2="420.43" y2="752.36" stroke="#000" stroke-width="1.53"/><line x1="465.11" y1="810.66" x2="465.11" y2="847.4" stroke="#000" stroke-width="1.53"/><line x1="509.79" y1="871.37" x2="509.79" y2="889.72" stroke="#000" stroke-width="1.53"/><line x1="554.46" y1="870.31" x2="554.46" y2="888.34" stroke="#000" stroke-width="1.53"/><line x1="599.14" y1="809.09" x2="599.14" y2="839.36" stroke="#000" stroke-width="1.53"/><line x1="643.81" y1="710.04" x2="643.81" y2="743.38" stroke="#000" stroke-width="1.53"/><line x1="688.49" y1="646.12" x2="688.49" y2="668.98" stroke="#000" stroke-width="1.53"/><line x1="733.17" y1="641.67" x2="733.17" y2="681.14" stroke="#000" stroke-width="1.53"/><line x1="777.84" y1="706.32" x2="777.84" y2="789.07" stroke="#000" stroke-width="1.53"/><line x1="822.52" y1="714.13" x2="822.52" y2="790.15" stroke="#000" stroke-width="1.53"/><line x1="911.87" y1="719.88" x2="911.87" y2="828.92" stroke="#000" stroke-width="1.53"/><line x1="956.55" y1="742.59" x2="956.55" y2="859.62" stroke="#000" stroke-width="1.53"/><line x1="1001.22" y1="746.22" x2="1001.22" y2="891.6" stroke="#000" stroke-width="1.53"/><line x1="420.43" y1="851.98" x2="420.43" y2="891.06" stroke="#000" stroke-width="1.53"/><line x1="465.11" y1="724.44" x2="465.11" y2="763.66" stroke="#000" stroke-width="1.53"/><line x1="509.79" y1="662.01" x2="509.79" y2="681.34" stroke="#000" stroke-width="1.53"/><line x1="554.46" y1="666" x2="554.46" y2="685.66" stroke="#000" stroke-width="1.53"/><line x1="599.14" y1="713.23" x2="599.14" y2="743.88" stroke="#000" stroke-width="1.53"/><line x1="643.81" y1="815.51" x2="643.81" y2="847.75" stroke="#000" stroke-width="1.53"/><use href="#tri" x="107.7" y="640.86"/><use href="#tri" x="152.38" y="640.86"/><use href="#tri" x="197.05" y="640.86"/><use href="#tri" x="241.73" y="774.4"/><use href="#tri" x="286.41" y="793.48"/><use href="#tri" x="331.08" y="863.43"/><use href="#tri" x="375.76" y="907.94"/><use href="#tri" x="420.43" y="859.38"/><use href="#tri" x="465.11" y="883.66"/><use href="#tri" x="509.79" y="904.52"/><use href="#tri" x="554.46" y="901.58"/><use href="#tri" x="599.14" y="903.95"/><use href="#tri" x="643.81" y="898.4"/><use href="#tri" x="688.49" y="891.25"/><use href="#tri" x="733.17" y="887.4"/><use href="#tri" x="777.84" y="801.11"/><use href="#tri" x="822.52" y="796.66"/><use href="#tri" x="867.19" y="640.86"/><use href="#tri" x="911.87" y="774.4"/><use href="#tri" x="956.55" y="747.69"/><use href="#tri" x="1001.22" y="729.89"/><use href="#tri" x="1045.9" y="640.86"/><use href="#tri" x="1090.57" y="640.86"/><use href="#tri" x="107.7" y="907.94"/><use href="#tri" x="152.38" y="907.94"/><use href="#tri" x="197.05" y="907.94"/><use href="#tri" x="241.73" y="774.4"/><use href="#tri" x="286.41" y="755.32"/><use href="#tri" x="331.08" y="685.37"/><use href="#tri" x="375.76" y="640.86"/><use href="#tri" x="420.43" y="725.84"/><use href="#tri" x="465.11" y="829.03"/><use href="#tri" x="509.79" y="880.55"/><use href="#tri" x="554.46" y="879.32"/><use href="#tri" x="599.14" y="824.23"/><use href="#tri" x="643.81" y="726.71"/><use href="#tri" x="688.49" y="657.55"/><use href="#tri" x="733.17" y="661.4"/><use href="#tri" x="777.84" y="747.69"/><use href="#tri" x="822.52" y="752.14"/><use href="#tri" x="867.19" y="907.94"/><use href="#tri" x="911.87" y="774.4"/><use href="#tri" x="956.55" y="801.11"/><use href="#tri" x="1001.22" y="818.91"/><use href="#tri" x="1045.9" y="907.94"/><use href="#tri" x="1090.57" y="907.94"/><use href="#tri" x="107.7" y="907.94"/><use href="#tri" x="152.38" y="907.94"/><use href="#tri" x="197.05" y="907.94"/><use href="#tri" x="241.73" y="907.94"/><use href="#tri" x="286.41" y="907.94"/><use href="#tri" x="331.08" y="907.94"/><use href="#tri" x="375.76" y="907.94"/><use href="#tri" x="420.43" y="871.52"/><use href="#tri" x="465.11" y="744.05"/><use href="#tri" x="509.79" y="671.68"/><use href="#tri" x="554.46" y="675.83"/><use href="#tri" x="599.14" y="728.56"/><use href="#tri" x="643.81" y="831.63"/><use href="#tri" x="688.49" y="907.94"/><use href="#tri" x="733.17" y="907.94"/><use href="#tri" x="777.84" y="907.94"/><use href="#tri" x="822.52" y="907.94"/><use href="#tri" x="867.19" y="907.94"/><use href="#tri" x="911.87" y="907.94"/><use href="#tri" x="956.55" y="907.94"/><use href="#tri" x="1001.22" y="907.94"/><use href="#tri" x="1045.9" y="907.94"/><use href="#tri" x="1090.57" y="907.94"/></g>
<rect x="94.3" y="619.76" width="965" height="309.28" fill="none" stroke="#000" stroke-width="2.44"/>
<text x="83.61" y="919.34" font-size="31.4" text-anchor="end">0</text>
<text x="83.61" y="839.22" font-size="31.4" text-anchor="end">30</text>
<text x="83.61" y="759.09" font-size="31.4" text-anchor="end">60</text>
<text x="83.61" y="678.97" font-size="31.4" text-anchor="end">90</text>
<text x="978.8" y="853.75" font-size="37.7" fill="#bf00bf">wHe</text>
<line x1="130.04" y1="1238.32" x2="130.04" y2="1232.21" stroke="#000" stroke-width="1.83"/>
<line x1="174.72" y1="1238.32" x2="174.72" y2="1227.63" stroke="#000" stroke-width="2.44"/>
<line x1="219.39" y1="1238.32" x2="219.39" y2="1232.21" stroke="#000" stroke-width="1.83"/>
<line x1="264.07" y1="1238.32" x2="264.07" y2="1232.21" stroke="#000" stroke-width="1.83"/>
<line x1="308.74" y1="1238.32" x2="308.74" y2="1232.21" stroke="#000" stroke-width="1.83"/>
<line x1="353.42" y1="1238.32" x2="353.42" y2="1227.63" stroke="#000" stroke-width="2.44"/>
<line x1="398.1" y1="1238.32" x2="398.1" y2="1232.21" stroke="#000" stroke-width="1.83"/>
<line x1="442.77" y1="1238.32" x2="442.77" y2="1232.21" stroke="#000" stroke-width="1.83"/>
<line x1="487.45" y1="1238.32" x2="487.45" y2="1232.21" stroke="#000" stroke-width="1.83"/>
<line x1="532.12" y1="1238.32" x2="532.12" y2="1227.63" stroke="#000" stroke-width="2.44"/>
<line x1="576.8" y1="1238.32" x2="576.8" y2="1232.21" stroke="#000" stroke-width="1.83"/>
<line x1="621.48" y1="1238.32" x2="621.48" y2="1232.21" stroke="#000" stroke-width="1.83"/>
<line x1="666.15" y1="1238.32" x2="666.15" y2="1232.21" stroke="#000" stroke-width="1.83"/>
<line x1="710.83" y1="1238.32" x2="710.83" y2="1227.63" stroke="#000" stroke-width="2.44"/>
<line x1="755.5" y1="1238.32" x2="755.5" y2="1232.21" stroke="#000" stroke-width="1.83"/>
<line x1="800.18" y1="1238.32" x2="800.18" y2="1232.21" stroke="#000" stroke-width="1.83"/>
<line x1="844.86" y1="1238.32" x2="844.86" y2="1232.21" stroke="#000" stroke-width="1.83"/>
<line x1="889.53" y1="1238.32" x2="889.53" y2="1227.63" stroke="#000" stroke-width="2.44"/>
<line x1="934.21" y1="1238.32" x2="934.21" y2="1232.21" stroke="#000" stroke-width="1.83"/>
<line x1="978.88" y1="1238.32" x2="978.88" y2="1232.21" stroke="#000" stroke-width="1.83"/>
<line x1="1023.56" y1="1238.32" x2="1023.56" y2="1232.21" stroke="#000" stroke-width="1.83"/>
<line x1="94.3" y1="1230.57" x2="100.41" y2="1230.57" stroke="#000" stroke-width="1.83"/>
<line x1="94.3" y1="1217.22" x2="100.41" y2="1217.22" stroke="#000" stroke-width="1.83"/>
<line x1="94.3" y1="1203.87" x2="100.41" y2="1203.87" stroke="#000" stroke-width="1.83"/>
<line x1="94.3" y1="1190.51" x2="100.41" y2="1190.51" stroke="#000" stroke-width="1.83"/>
<line x1="94.3" y1="1177.16" x2="100.41" y2="1177.16" stroke="#000" stroke-width="1.83"/>
<line x1="94.3" y1="1163.8" x2="100.41" y2="1163.8" stroke="#000" stroke-width="1.83"/>
<line x1="94.3" y1="1150.45" x2="100.41" y2="1150.45" stroke="#000" stroke-width="1.83"/>
<line x1="94.3" y1="1137.1" x2="100.41" y2="1137.1" stroke="#000" stroke-width="1.83"/>
<line x1="94.3" y1="1123.74" x2="100.41" y2="1123.74" stroke="#000" stroke-width="1.83"/>
<line x1="94.3" y1="1110.39" x2="100.41" y2="1110.39" stroke="#000" stroke-width="1.83"/>
<line x1="94.3" y1="1097.03" x2="100.41" y2="1097.03" stroke="#000" stroke-width="1.83"/>
<line x1="94.3" y1="1083.68" x2="100.41" y2="1083.68" stroke="#000" stroke-width="1.83"/>
<line x1="94.3" y1="1070.33" x2="100.41" y2="1070.33" stroke="#000" stroke-width="1.83"/>
<line x1="94.3" y1="1056.97" x2="100.41" y2="1056.97" stroke="#000" stroke-width="1.83"/>
<line x1="94.3" y1="1043.62" x2="100.41" y2="1043.62" stroke="#000" stroke-width="1.83"/>
<line x1="94.3" y1="1030.26" x2="100.41" y2="1030.26" stroke="#000" stroke-width="1.83"/>
<line x1="94.3" y1="1016.91" x2="100.41" y2="1016.91" stroke="#000" stroke-width="1.83"/>
<line x1="94.3" y1="1003.56" x2="100.41" y2="1003.56" stroke="#000" stroke-width="1.83"/>
<line x1="94.3" y1="990.2" x2="100.41" y2="990.2" stroke="#000" stroke-width="1.83"/>
<line x1="94.3" y1="976.85" x2="100.41" y2="976.85" stroke="#000" stroke-width="1.83"/>
<line x1="94.3" y1="963.49" x2="100.41" y2="963.49" stroke="#000" stroke-width="1.83"/>
<line x1="94.3" y1="950.14" x2="100.41" y2="950.14" stroke="#000" stroke-width="1.83"/>
<line x1="94.3" y1="936.79" x2="100.41" y2="936.79" stroke="#000" stroke-width="1.83"/>
<line x1="94.3" y1="1217.22" x2="104.99" y2="1217.22" stroke="#000" stroke-width="2.44"/>
<line x1="94.3" y1="1137.1" x2="104.99" y2="1137.1" stroke="#000" stroke-width="2.44"/>
<line x1="94.3" y1="1056.97" x2="104.99" y2="1056.97" stroke="#000" stroke-width="2.44"/>
<line x1="94.3" y1="976.85" x2="104.99" y2="976.85" stroke="#000" stroke-width="2.44"/>
<g clip-path="url(#c03)"><path d="M331.08,950.14 L375.76,1039.17 L420.43,1217.22 L465.11,1217.22 L509.79,1187.54 L554.46,1201.51 L599.14,1217.22 L643.81,1150.45 L688.49,1098.52 L733.17,1150.45 L777.84,1150.45 L822.52,1217.22 L867.19,950.14 L1001.22,950.14 L1045.9,950.14 L1090.57,950.14" fill="none" stroke="#1f77b4" stroke-width="4.58" stroke-linecap="square" stroke-linejoin="round"/><path d="M331.08,1217.22 L375.76,1128.19 L420.43,1083.68 L465.11,1128.19 L509.79,1217.22 L554.46,1170.09 L599.14,1071.54 L643.81,1050.29 L688.49,1068.84 L733.17,1016.91 L777.84,1016.91 L822.52,950.14 L867.19,1217.22 L1001.22,1217.22 L1045.9,1217.22 L1090.57,1217.22" fill="none" stroke="#ff7f0e" stroke-width="4.58" stroke-linecap="square" stroke-linejoin="round"/><path d="M331.08,1217.22 L375.76,1217.22 L420.43,1083.68 L465.11,1039.17 L509.79,979.82 L554.46,1012.98 L599.14,1095.82 L643.81,1183.84 L688.49,1217.22 L733.17,1217.22 L777.84,1217.22 L822.52,1217.22 L867.19,1217.22 L1001.22,1217.22 L1045.9,1217.22 L1090.57,1217.22" fill="none" stroke="#2ca02c" stroke-width="4.58" stroke-linecap="square" stroke-linejoin="round"/><line x1="375.76" y1="966.48" x2="375.76" y2="1111.86" stroke="#000" stroke-width="1.53"/><line x1="509.79" y1="1159.57" x2="509.79" y2="1215.52" stroke="#000" stroke-width="1.53"/><line x1="554.46" y1="1186.27" x2="554.46" y2="1216.75" stroke="#000" stroke-width="1.53"/><line x1="643.81" y1="1109.56" x2="643.81" y2="1191.34" stroke="#000" stroke-width="1.53"/><line x1="688.49" y1="1054.28" x2="688.49" y2="1142.76" stroke="#000" stroke-width="1.53"/><line x1="733.17" y1="1092.63" x2="733.17" y2="1208.28" stroke="#000" stroke-width="1.53"/><line x1="777.84" y1="1092.63" x2="777.84" y2="1208.28" stroke="#000" stroke-width="1.53"/><line x1="375.76" y1="1055.5" x2="375.76" y2="1200.88" stroke="#000" stroke-width="1.53"/><line x1="420.43" y1="989.25" x2="420.43" y2="1178.11" stroke="#000" stroke-width="1.53"/><line x1="465.11" y1="1086.23" x2="465.11" y2="1170.16" stroke="#000" stroke-width="1.53"/><line x1="554.46" y1="1145.39" x2="554.46" y2="1194.78" stroke="#000" stroke-width="1.53"/><line x1="599.14" y1="1031.44" x2="599.14" y2="1111.64" stroke="#000" stroke-width="1.53"/><line x1="643.81" y1="1004.58" x2="643.81" y2="1096.01" stroke="#000" stroke-width="1.53"/><line x1="688.49" y1="1024.6" x2="688.49" y2="1113.08" stroke="#000" stroke-width="1.53"/><line x1="733.17" y1="959.08" x2="733.17" y2="1074.73" stroke="#000" stroke-width="1.53"/><line x1="777.84" y1="959.08" x2="777.84" y2="1074.73" stroke="#000" stroke-width="1.53"/><line x1="420.43" y1="989.25" x2="420.43" y2="1178.11" stroke="#000" stroke-width="1.53"/><line x1="465.11" y1="997.2" x2="465.11" y2="1081.13" stroke="#000" stroke-width="1.53"/><line x1="509.79" y1="951.84" x2="509.79" y2="1007.79" stroke="#000" stroke-width="1.53"/><line x1="554.46" y1="985.5" x2="554.46" y2="1040.46" stroke="#000" stroke-width="1.53"/><line x1="599.14" y1="1055.72" x2="599.14" y2="1135.92" stroke="#000" stroke-width="1.53"/><line x1="643.81" y1="1152.61" x2="643.81" y2="1215.06" stroke="#000" stroke-width="1.53"/><use href="#tri" x="331.08" y="950.14"/><use href="#tri" x="375.76" y="1039.17"/><use href="#tri" x="420.43" y="1217.22"/><use href="#tri" x="465.11" y="1217.22"/><use href="#tri" x="509.79" y="1187.54"/><use href="#tri" x="554.46" y="1201.51"/><use href="#tri" x="599.14" y="1217.22"/><use href="#tri" x="643.81" y="1150.45"/><use href="#tri" x="688.49" y="1098.52"/><use href="#tri" x="733.17" y="1150.45"/><use href="#tri" x="777.84" y="1150.45"/><use href="#tri" x="822.52" y="1217.22"/><use href="#tri" x="867.19" y="950.14"/><use href="#tri" x="1001.22" y="950.14"/><use href="#tri" x="1045.9" y="950.14"/><use href="#tri" x="1090.57" y="950.14"/><use href="#tri" x="331.08" y="1217.22"/><use href="#tri" x="375.76" y="1128.19"/><use href="#tri" x="420.43" y="1083.68"/><use href="#tri" x="465.11" y="1128.19"/><use href="#tri" x="509.79" y="1217.22"/><use href="#tri" x="554.46" y="1170.09"/><use href="#tri" x="599.14" y="1071.54"/><use href="#tri" x="643.81" y="1050.29"/><use href="#tri" x="688.49" y="1068.84"/><use href="#tri" x="733.17" y="1016.91"/><use href="#tri" x="777.84" y="1016.91"/><use href="#tri" x="822.52" y="950.14"/><use href="#tri" x="867.19" y="1217.22"/><use href="#tri" x="1001.22" y="1217.22"/><use href="#tri" x="1045.9" y="1217.22"/><use href="#tri" x="1090.57" y="1217.22"/><use href="#tri" x="331.08" y="1217.22"/><use href="#tri" x="375.76" y="1217.22"/><use href="#tri" x="420.43" y="1083.68"/><use href="#tri" x="465.11" y="1039.17"/><use href="#tri" x="509.79" y="979.82"/><use href="#tri" x="554.46" y="1012.98"/><use href="#tri" x="599.14" y="1095.82"/><use href="#tri" x="643.81" y="1183.84"/><use href="#tri" x="688.49" y="1217.22"/><use href="#tri" x="733.17" y="1217.22"/><use href="#tri" x="777.84" y="1217.22"/><use href="#tri" x="822.52" y="1217.22"/><use href="#tri" x="867.19" y="1217.22"/><use href="#tri" x="1001.22" y="1217.22"/><use href="#tri" x="1045.9" y="1217.22"/><use href="#tri" x="1090.57" y="1217.22"/></g>
<rect x="94.3" y="929.04" width="965" height="309.28" fill="none" stroke="#000" stroke-width="2.44"/>
<text x="83.61" y="1228.62" font-size="31.4" text-anchor="end">0</text>
<text x="83.61" y="1148.5" font-size="31.4" text-anchor="end">30</text>
<text x="83.61" y="1068.37" font-size="31.4" text-anchor="end">60</text>
<text x="83.61" y="988.25" font-size="31.4" text-anchor="end">90</text>
<text x="978.8" y="1163.75" font-size="37.7" fill="#bf00bf">iHe</text>
<line x1="130.04" y1="1547.6" x2="130.04" y2="1541.49" stroke="#000" stroke-width="1.83"/>
<line x1="174.72" y1="1547.6" x2="174.72" y2="1536.91" stroke="#000" stroke-width="2.44"/>
<line x1="219.39" y1="1547.6" x2="219.39" y2="1541.49" stroke="#000" stroke-width="1.83"/>
<line x1="264.07" y1="1547.6" x2="264.07" y2="1541.49" stroke="#000" stroke-width="1.83"/>
<line x1="308.74" y1="1547.6" x2="308.74" y2="1541.49" stroke="#000" stroke-width="1.83"/>
<line x1="353.42" y1="1547.6" x2="353.42" y2="1536.91" stroke="#000" stroke-width="2.44"/>
<line x1="398.1" y1="1547.6" x2="398.1" y2="1541.49" stroke="#000" stroke-width="1.83"/>
<line x1="442.77" y1="1547.6" x2="442.77" y2="1541.49" stroke="#000" stroke-width="1.83"/>
<line x1="487.45" y1="1547.6" x2="487.45" y2="1541.49" stroke="#000" stroke-width="1.83"/>
<line x1="532.12" y1="1547.6" x2="532.12" y2="1536.91" stroke="#000" stroke-width="2.44"/>
<line x1="576.8" y1="1547.6" x2="576.8" y2="1541.49" stroke="#000" stroke-width="1.83"/>
<line x1="621.48" y1="1547.6" x2="621.48" y2="1541.49" stroke="#000" stroke-width="1.83"/>
<line x1="666.15" y1="1547.6" x2="666.15" y2="1541.49" stroke="#000" stroke-width="1.83"/>
<line x1="710.83" y1="1547.6" x2="710.83" y2="1536.91" stroke="#000" stroke-width="2.44"/>
<line x1="755.5" y1="1547.6" x2="755.5" y2="1541.49" stroke="#000" stroke-width="1.83"/>
<line x1="800.18" y1="1547.6" x2="800.18" y2="1541.49" stroke="#000" stroke-width="1.83"/>
<line x1="844.86" y1="1547.6" x2="844.86" y2="1541.49" stroke="#000" stroke-width="1.83"/>
<line x1="889.53" y1="1547.6" x2="889.53" y2="1536.91" stroke="#000" stroke-width="2.44"/>
<line x1="934.21" y1="1547.6" x2="934.21" y2="1541.49" stroke="#000" stroke-width="1.83"/>
<line x1="978.88" y1="1547.6" x2="978.88" y2="1541.49" stroke="#000" stroke-width="1.83"/>
<line x1="1023.56" y1="1547.6" x2="1023.56" y2="1541.49" stroke="#000" stroke-width="1.83"/>
<line x1="94.3" y1="1539.85" x2="100.41" y2="1539.85" stroke="#000" stroke-width="1.83"/>
<line x1="94.3" y1="1526.5" x2="100.41" y2="1526.5" stroke="#000" stroke-width="1.83"/>
<line x1="94.3" y1="1513.15" x2="100.41" y2="1513.15" stroke="#000" stroke-width="1.83"/>
<line x1="94.3" y1="1499.79" x2="100.41" y2="1499.79" stroke="#000" stroke-width="1.83"/>
<line x1="94.3" y1="1486.44" x2="100.41" y2="1486.44" stroke="#000" stroke-width="1.83"/>
<line x1="94.3" y1="1473.08" x2="100.41" y2="1473.08" stroke="#000" stroke-width="1.83"/>
<line x1="94.3" y1="1459.73" x2="100.41" y2="1459.73" stroke="#000" stroke-width="1.83"/>
<line x1="94.3" y1="1446.38" x2="100.41" y2="1446.38" stroke="#000" stroke-width="1.83"/>
<line x1="94.3" y1="1433.02" x2="100.41" y2="1433.02" stroke="#000" stroke-width="1.83"/>
<line x1="94.3" y1="1419.67" x2="100.41" y2="1419.67" stroke="#000" stroke-width="1.83"/>
<line x1="94.3" y1="1406.31" x2="100.41" y2="1406.31" stroke="#000" stroke-width="1.83"/>
<line x1="94.3" y1="1392.96" x2="100.41" y2="1392.96" stroke="#000" stroke-width="1.83"/>
<line x1="94.3" y1="1379.61" x2="100.41" y2="1379.61" stroke="#000" stroke-width="1.83"/>
<line x1="94.3" y1="1366.25" x2="100.41" y2="1366.25" stroke="#000" stroke-width="1.83"/>
<line x1="94.3" y1="1352.9" x2="100.41" y2="1352.9" stroke="#000" stroke-width="1.83"/>
<line x1="94.3" y1="1339.54" x2="100.41" y2="1339.54" stroke="#000" stroke-width="1.83"/>
<line x1="94.3" y1="1326.19" x2="100.41" y2="1326.19" stroke="#000" stroke-width="1.83"/>
<line x1="94.3" y1="1312.84" x2="100.41" y2="1312.84" stroke="#000" stroke-width="1.83"/>
<line x1="94.3" y1="1299.48" x2="100.41" y2="1299.48" stroke="#000" stroke-width="1.83"/>
<line x1="94.3" y1="1286.13" x2="100.41" y2="1286.13" stroke="#000" stroke-width="1.83"/>
<line x1="94.3" y1="1272.77" x2="100.41" y2="1272.77" stroke="#000" stroke-width="1.83"/>
<line x1="94.3" y1="1259.42" x2="100.41" y2="1259.42" stroke="#000" stroke-width="1.83"/>
<line x1="94.3" y1="1246.07" x2="100.41" y2="1246.07" stroke="#000" stroke-width="1.83"/>
<line x1="94.3" y1="1526.5" x2="104.99" y2="1526.5" stroke="#000" stroke-width="2.44"/>
<line x1="94.3" y1="1446.38" x2="104.99" y2="1446.38" stroke="#000" stroke-width="2.44"/>
<line x1="94.3" y1="1366.25" x2="104.99" y2="1366.25" stroke="#000" stroke-width="2.44"/>
<line x1="94.3" y1="1286.13" x2="104.99" y2="1286.13" stroke="#000" stroke-width="2.44"/>
<g clip-path="url(#c04)"><path d="M63.03,1259.42 L152.38,1392.96 L197.05,1526.5 L241.73,1392.96 L286.41,1259.42 L331.08,1459.73 L375.76,1526.5 L420.43,1526.5 L465.11,1526.5 L509.79,1517.6 L554.46,1505.13 L599.14,1489.66 L643.81,1515.37 L688.49,1437.47 L733.17,1437.47 L777.84,1312.84 L822.52,1348.45 L867.19,1481.99 L911.87,1259.42 L956.55,1259.42 L1045.9,1259.42 L1090.57,1259.42" fill="none" stroke="#1f77b4" stroke-width="4.58" stroke-linecap="square" stroke-linejoin="round"/><path d="M63.03,1526.5 L152.38,1392.96 L197.05,1259.42 L241.73,1392.96 L286.41,1526.5 L331.08,1326.19 L375.76,1259.42 L420.43,1259.42 L465.11,1433.02 L509.79,1508.7 L554.46,1494.45 L599.14,1462.03 L643.81,1359.57 L688.49,1348.45 L733.17,1348.45 L777.84,1473.08 L822.52,1437.47 L867.19,1303.93 L911.87,1526.5 L956.55,1526.5 L1045.9,1526.5 L1090.57,1526.5" fill="none" stroke="#ff7f0e" stroke-width="4.58" stroke-linecap="square" stroke-linejoin="round"/><path d="M63.03,1526.5 L152.38,1526.5 L197.05,1526.5 L241.73,1526.5 L286.41,1526.5 L331.08,1526.5 L375.76,1526.5 L420.43,1526.5 L465.11,1352.9 L509.79,1286.13 L554.46,1312.84 L599.14,1360.73 L643.81,1437.47 L688.49,1526.5 L733.17,1526.5 L777.84,1526.5 L822.52,1526.5 L867.19,1526.5 L911.87,1526.5 L956.55,1526.5 L1045.9,1526.5 L1090.57,1526.5" fill="none" stroke="#2ca02c" stroke-width="4.58" stroke-linecap="square" stroke-linejoin="round"/><line x1="152.38" y1="1298.53" x2="152.38" y2="1487.39" stroke="#000" stroke-width="1.53"/><line x1="241.73" y1="1298.53" x2="241.73" y2="1487.39" stroke="#000" stroke-width="1.53"/><line x1="331.08" y1="1401.91" x2="331.08" y2="1517.56" stroke="#000" stroke-width="1.53"/><line x1="509.79" y1="1508.84" x2="509.79" y2="1526.35" stroke="#000" stroke-width="1.53"/><line x1="554.46" y1="1490.64" x2="554.46" y2="1519.63" stroke="#000" stroke-width="1.53"/><line x1="599.14" y1="1472.56" x2="599.14" y2="1506.76" stroke="#000" stroke-width="1.53"/><line x1="643.81" y1="1504.48" x2="643.81" y2="1526.27" stroke="#000" stroke-width="1.53"/><line x1="688.49" y1="1407.8" x2="688.49" y2="1467.15" stroke="#000" stroke-width="1.53"/><line x1="733.17" y1="1401.13" x2="733.17" y2="1473.82" stroke="#000" stroke-width="1.53"/><line x1="777.84" y1="1279.05" x2="777.84" y2="1346.62" stroke="#000" stroke-width="1.53"/><line x1="822.52" y1="1275.76" x2="822.52" y2="1421.14" stroke="#000" stroke-width="1.53"/><line x1="867.19" y1="1441.35" x2="867.19" y2="1522.62" stroke="#000" stroke-width="1.53"/><line x1="152.38" y1="1298.53" x2="152.38" y2="1487.39" stroke="#000" stroke-width="1.53"/><line x1="241.73" y1="1298.53" x2="241.73" y2="1487.39" stroke="#000" stroke-width="1.53"/><line x1="331.08" y1="1268.36" x2="331.08" y2="1384.01" stroke="#000" stroke-width="1.53"/><line x1="465.11" y1="1404.54" x2="465.11" y2="1461.51" stroke="#000" stroke-width="1.53"/><line x1="509.79" y1="1496.53" x2="509.79" y2="1520.86" stroke="#000" stroke-width="1.53"/><line x1="554.46" y1="1477.09" x2="554.46" y2="1511.81" stroke="#000" stroke-width="1.53"/><line x1="599.14" y1="1440.81" x2="599.14" y2="1483.26" stroke="#000" stroke-width="1.53"/><line x1="643.81" y1="1333.18" x2="643.81" y2="1385.97" stroke="#000" stroke-width="1.53"/><line x1="688.49" y1="1318.77" x2="688.49" y2="1378.12" stroke="#000" stroke-width="1.53"/><line x1="733.17" y1="1312.1" x2="733.17" y2="1384.79" stroke="#000" stroke-width="1.53"/><line x1="777.84" y1="1439.3" x2="777.84" y2="1506.87" stroke="#000" stroke-width="1.53"/><line x1="822.52" y1="1364.78" x2="822.52" y2="1510.16" stroke="#000" stroke-width="1.53"/><line x1="867.19" y1="1263.3" x2="867.19" y2="1344.57" stroke="#000" stroke-width="1.53"/><line x1="465.11" y1="1324.41" x2="465.11" y2="1381.38" stroke="#000" stroke-width="1.53"/><line x1="509.79" y1="1271.5" x2="509.79" y2="1300.76" stroke="#000" stroke-width="1.53"/><line x1="554.46" y1="1291.47" x2="554.46" y2="1334.2" stroke="#000" stroke-width="1.53"/><line x1="599.14" y1="1336.66" x2="599.14" y2="1384.79" stroke="#000" stroke-width="1.53"/><line x1="643.81" y1="1411.77" x2="643.81" y2="1463.17" stroke="#000" stroke-width="1.53"/><use href="#tri" x="63.03" y="1259.42"/><use href="#tri" x="152.38" y="1392.96"/><use href="#tri" x="197.05" y="1526.5"/><use href="#tri" x="241.73" y="1392.96"/><use href="#tri" x="286.41" y="1259.42"/><use href="#tri" x="331.08" y="1459.73"/><use href="#tri" x="375.76" y="1526.5"/><use href="#tri" x="420.43" y="1526.5"/><use href="#tri" x="465.11" y="1526.5"/><use href="#tri" x="509.79" y="1517.6"/><use href="#tri" x="554.46" y="1505.13"/><use href="#tri" x="599.14" y="1489.66"/><use href="#tri" x="643.81" y="1515.37"/><use href="#tri" x="688.49" y="1437.47"/><use href="#tri" x="733.17" y="1437.47"/><use href="#tri" x="777.84" y="1312.84"/><use href="#tri" x="822.52" y="1348.45"/><use href="#tri" x="867.19" y="1481.99"/><use href="#tri" x="911.87" y="1259.42"/><use href="#tri" x="956.55" y="1259.42"/><use href="#tri" x="1045.9" y="1259.42"/><use href="#tri" x="1090.57" y="1259.42"/><use href="#tri" x="63.03" y="1526.5"/><use href="#tri" x="152.38" y="1392.96"/><use href="#tri" x="197.05" y="1259.42"/><use href="#tri" x="241.73" y="1392.96"/><use href="#tri" x="286.41" y="1526.5"/><use href="#tri" x="331.08" y="1326.19"/><use href="#tri" x="375.76" y="1259.42"/><use href="#tri" x="420.43" y="1259.42"/><use href="#tri" x="465.11" y="1433.02"/><use href="#tri" x="509.79" y="1508.7"/><use href="#tri" x="554.46" y="1494.45"/><use href="#tri" x="599.14" y="1462.03"/><use href="#tri" x="643.81" y="1359.57"/><use href="#tri" x="688.49" y="1348.45"/><use href="#tri" x="733.17" y="1348.45"/><use href="#tri" x="777.84" y="1473.08"/><use href="#tri" x="822.52" y="1437.47"/><use href="#tri" x="867.19" y="1303.93"/><use href="#tri" x="911.87" y="1526.5"/><use href="#tri" x="956.55" y="1526.5"/><use href="#tri" x="1045.9" y="1526.5"/><use href="#tri" x="1090.57" y="1526.5"/><use href="#tri" x="63.03" y="1526.5"/><use href="#tri" x="152.38" y="1526.5"/><use href="#tri" x="197.05" y="1526.5"/><use href="#tri" x="241.73" y="1526.5"/><use href="#tri" x="286.41" y="1526.5"/><use href="#tri" x="331.08" y="1526.5"/><use href="#tri" x="375.76" y="1526.5"/><use href="#tri" x="420.43" y="1526.5"/><use href="#tri" x="465.11" y="1352.9"/><use href="#tri" x="509.79" y="1286.13"/><use href="#tri" x="554.46" y="1312.84"/><use href="#tri" x="599.14" y="1360.73"/><use href="#tri" x="643.81" y="1437.47"/><use href="#tri" x="688.49" y="1526.5"/><use href="#tri" x="733.17" y="1526.5"/><use href="#tri" x="777.84" y="1526.5"/><use href="#tri" x="822.52" y="1526.5"/><use href="#tri" x="867.19" y="1526.5"/><use href="#tri" x="911.87" y="1526.5"/><use href="#tri" x="956.55" y="1526.5"/><use href="#tri" x="1045.9" y="1526.5"/><use href="#tri" x="1090.57" y="1526.5"/></g>
<rect x="94.3" y="1238.32" width="965" height="309.28" fill="none" stroke="#000" stroke-width="2.44"/>
<text x="83.61" y="1537.9" font-size="31.4" text-anchor="end">0</text>
<text x="83.61" y="1457.78" font-size="31.4" text-anchor="end">30</text>
<text x="83.61" y="1377.65" font-size="31.4" text-anchor="end">60</text>
<text x="83.61" y="1297.53" font-size="31.4" text-anchor="end">90</text>
<text x="978.8" y="1473.75" font-size="37.7" fill="#bf00bf">eHe</text>
<text x="174.72" y="1582" font-size="31.4" text-anchor="middle">−4</text>
<text x="353.42" y="1582" font-size="31.4" text-anchor="middle">−2</text>
<text x="532.12" y="1582" font-size="31.4" text-anchor="middle">0</text>
<text x="710.83" y="1582" font-size="31.4" text-anchor="middle">2</text>
<text x="889.53" y="1582" font-size="31.4" text-anchor="middle">4</text>
<text x="575.6" y="1624.6" font-size="31.4" text-anchor="middle"><tspan font-style="italic">Z</tspan><tspan dx="4.1"> (kpc)</tspan></text>
<line x1="1240.44" y1="310.48" x2="1240.44" y2="304.37" stroke="#000" stroke-width="1.83"/>
<line x1="1285.12" y1="310.48" x2="1285.12" y2="299.79" stroke="#000" stroke-width="2.44"/>
<line x1="1329.79" y1="310.48" x2="1329.79" y2="304.37" stroke="#000" stroke-width="1.83"/>
<line x1="1374.47" y1="310.48" x2="1374.47" y2="304.37" stroke="#000" stroke-width="1.83"/>
<line x1="1419.14" y1="310.48" x2="1419.14" y2="304.37" stroke="#000" stroke-width="1.83"/>
<line x1="1463.82" y1="310.48" x2="1463.82" y2="299.79" stroke="#000" stroke-width="2.44"/>
<line x1="1508.5" y1="310.48" x2="1508.5" y2="304.37" stroke="#000" stroke-width="1.83"/>
<line x1="1553.17" y1="310.48" x2="1553.17" y2="304.37" stroke="#000" stroke-width="1.83"/>
<line x1="1597.85" y1="310.48" x2="1597.85" y2="304.37" stroke="#000" stroke-width="1.83"/>
<line x1="1642.52" y1="310.48" x2="1642.52" y2="299.79" stroke="#000" stroke-width="2.44"/>
<line x1="1687.2" y1="310.48" x2="1687.2" y2="304.37" stroke="#000" stroke-width="1.83"/>
<line x1="1731.88" y1="310.48" x2="1731.88" y2="304.37" stroke="#000" stroke-width="1.83"/>
<line x1="1776.55" y1="310.48" x2="1776.55" y2="304.37" stroke="#000" stroke-width="1.83"/>
<line x1="1821.23" y1="310.48" x2="1821.23" y2="299.79" stroke="#000" stroke-width="2.44"/>
<line x1="1865.9" y1="310.48" x2="1865.9" y2="304.37" stroke="#000" stroke-width="1.83"/>
<line x1="1910.58" y1="310.48" x2="1910.58" y2="304.37" stroke="#000" stroke-width="1.83"/>
<line x1="1955.26" y1="310.48" x2="1955.26" y2="304.37" stroke="#000" stroke-width="1.83"/>
<line x1="1999.93" y1="310.48" x2="1999.93" y2="299.79" stroke="#000" stroke-width="2.44"/>
<line x1="2044.61" y1="310.48" x2="2044.61" y2="304.37" stroke="#000" stroke-width="1.83"/>
<line x1="2089.28" y1="310.48" x2="2089.28" y2="304.37" stroke="#000" stroke-width="1.83"/>
<line x1="2133.96" y1="310.48" x2="2133.96" y2="304.37" stroke="#000" stroke-width="1.83"/>
<line x1="1204.7" y1="308.3" x2="1210.81" y2="308.3" stroke="#000" stroke-width="1.83"/>
<line x1="1204.7" y1="287.04" x2="1210.81" y2="287.04" stroke="#000" stroke-width="1.83"/>
<line x1="1204.7" y1="265.77" x2="1210.81" y2="265.77" stroke="#000" stroke-width="1.83"/>
<line x1="1204.7" y1="244.51" x2="1210.81" y2="244.51" stroke="#000" stroke-width="1.83"/>
<line x1="1204.7" y1="223.24" x2="1210.81" y2="223.24" stroke="#000" stroke-width="1.83"/>
<line x1="1204.7" y1="201.98" x2="1210.81" y2="201.98" stroke="#000" stroke-width="1.83"/>
<line x1="1204.7" y1="180.72" x2="1210.81" y2="180.72" stroke="#000" stroke-width="1.83"/>
<line x1="1204.7" y1="159.45" x2="1210.81" y2="159.45" stroke="#000" stroke-width="1.83"/>
<line x1="1204.7" y1="138.19" x2="1210.81" y2="138.19" stroke="#000" stroke-width="1.83"/>
<line x1="1204.7" y1="116.92" x2="1210.81" y2="116.92" stroke="#000" stroke-width="1.83"/>
<line x1="1204.7" y1="95.66" x2="1210.81" y2="95.66" stroke="#000" stroke-width="1.83"/>
<line x1="1204.7" y1="74.4" x2="1210.81" y2="74.4" stroke="#000" stroke-width="1.83"/>
<line x1="1204.7" y1="53.13" x2="1210.81" y2="53.13" stroke="#000" stroke-width="1.83"/>
<line x1="1204.7" y1="31.87" x2="1210.81" y2="31.87" stroke="#000" stroke-width="1.83"/>
<line x1="1204.7" y1="10.6" x2="1210.81" y2="10.6" stroke="#000" stroke-width="1.83"/>
<line x1="1204.7" y1="308.3" x2="1215.39" y2="308.3" stroke="#000" stroke-width="2.44"/>
<line x1="1204.7" y1="201.98" x2="1215.39" y2="201.98" stroke="#000" stroke-width="2.44"/>
<line x1="1204.7" y1="95.66" x2="1215.39" y2="95.66" stroke="#000" stroke-width="2.44"/>
<g clip-path="url(#c10)"><path d="M1173.43,307.24 L1218.1,306.17 L1262.78,305.11 L1307.45,306.17 L1352.13,305.11 L1396.81,299.79 L1441.48,299.79 L1486.16,305.11 L1530.83,300.86 L1575.51,300.86 L1620.19,304.05 L1664.86,299.79 L1709.54,299.79 L1754.21,300.86 L1798.89,284.91 L1843.57,295.54 L1888.24,287.04 L1932.92,292.35 L1977.59,297.67 L2022.27,297.67 L2066.95,288.1 L2111.62,298.73 L2156.3,291.29 L2200.97,293.42" fill="none" stroke="#1f77b4" stroke-width="4.58" stroke-linecap="square" stroke-linejoin="round"/><path d="M1173.43,308.3 L1218.1,308.3 L1262.78,307.24 L1307.45,304.05 L1352.13,306.17 L1396.81,297.67 L1441.48,294.48 L1486.16,284.91 L1530.83,248.76 L1575.51,260.46 L1620.19,276.4 L1664.86,265.77 L1709.54,240.26 L1754.21,209.42 L1798.89,214.74 L1843.57,263.65 L1888.24,282.78 L1932.92,288.1 L1977.59,298.73 L2022.27,304.05 L2066.95,304.05 L2111.62,307.24 L2156.3,308.3 L2200.97,308.3" fill="none" stroke="#ff7f0e" stroke-width="4.58" stroke-linecap="square" stroke-linejoin="round"/><path d="M1173.43,308.3 L1218.1,308.3 L1262.78,308.3 L1307.45,308.3 L1352.13,308.3 L1396.81,308.3 L1441.48,308.3 L1486.16,308.3 L1530.83,292.35 L1575.51,199.85 L1620.19,96.72 L1664.86,68.02 L1709.54,100.98 L1754.21,262.58 L1798.89,308.3 L1843.57,308.3 L1888.24,308.3 L1932.92,308.3 L1977.59,308.3 L2022.27,308.3 L2066.95,308.3 L2111.62,308.3 L2156.3,308.3 L2200.97,308.3" fill="none" stroke="#2ca02c" stroke-width="4.58" stroke-linecap="square" stroke-linejoin="round"/><path d="M1173.43,307.24 L1218.1,306.17 L1262.78,304.05 L1307.45,301.92 L1352.13,302.98 L1396.81,289.16 L1441.48,285.97 L1486.16,281.72 L1530.83,225.37 L1575.51,144.57 L1620.19,60.57 L1664.86,16.98 L1709.54,24.43 L1754.21,156.26 L1798.89,191.35 L1843.57,250.89 L1888.24,261.52 L1932.92,272.15 L1977.59,288.1 L2022.27,293.42 L2066.95,283.85 L2111.62,297.67 L2156.3,291.29 L2200.97,293.42" fill="none" stroke="#000" stroke-width="4.58" stroke-dasharray="17,7.6" stroke-dashoffset="44.68" stroke-linecap="butt" stroke-linejoin="round"/></g>
<rect x="1204.7" y="1.2" width="965" height="309.28" fill="none" stroke="#000" stroke-width="2.44"/>
<text x="1194.01" y="319.7" font-size="31.4" text-anchor="end">0</text>
<text x="1194.01" y="213.38" font-size="31.4" text-anchor="end">100</text>
<text x="1194.01" y="107.06" font-size="31.4" text-anchor="end">200</text>
<text x="2089.2" y="232" font-size="37.7" fill="#bf00bf">All</text>
<line x1="1240.44" y1="619.76" x2="1240.44" y2="613.65" stroke="#000" stroke-width="1.83"/>
<line x1="1285.12" y1="619.76" x2="1285.12" y2="609.07" stroke="#000" stroke-width="2.44"/>
<line x1="1329.79" y1="619.76" x2="1329.79" y2="613.65" stroke="#000" stroke-width="1.83"/>
<line x1="1374.47" y1="619.76" x2="1374.47" y2="613.65" stroke="#000" stroke-width="1.83"/>
<line x1="1419.14" y1="619.76" x2="1419.14" y2="613.65" stroke="#000" stroke-width="1.83"/>
<line x1="1463.82" y1="619.76" x2="1463.82" y2="609.07" stroke="#000" stroke-width="2.44"/>
<line x1="1508.5" y1="619.76" x2="1508.5" y2="613.65" stroke="#000" stroke-width="1.83"/>
<line x1="1553.17" y1="619.76" x2="1553.17" y2="613.65" stroke="#000" stroke-width="1.83"/>
<line x1="1597.85" y1="619.76" x2="1597.85" y2="613.65" stroke="#000" stroke-width="1.83"/>
<line x1="1642.52" y1="619.76" x2="1642.52" y2="609.07" stroke="#000" stroke-width="2.44"/>
<line x1="1687.2" y1="619.76" x2="1687.2" y2="613.65" stroke="#000" stroke-width="1.83"/>
<line x1="1731.88" y1="619.76" x2="1731.88" y2="613.65" stroke="#000" stroke-width="1.83"/>
<line x1="1776.55" y1="619.76" x2="1776.55" y2="613.65" stroke="#000" stroke-width="1.83"/>
<line x1="1821.23" y1="619.76" x2="1821.23" y2="609.07" stroke="#000" stroke-width="2.44"/>
<line x1="1865.9" y1="619.76" x2="1865.9" y2="613.65" stroke="#000" stroke-width="1.83"/>
<line x1="1910.58" y1="619.76" x2="1910.58" y2="613.65" stroke="#000" stroke-width="1.83"/>
<line x1="1955.26" y1="619.76" x2="1955.26" y2="613.65" stroke="#000" stroke-width="1.83"/>
<line x1="1999.93" y1="619.76" x2="1999.93" y2="609.07" stroke="#000" stroke-width="2.44"/>
<line x1="2044.61" y1="619.76" x2="2044.61" y2="613.65" stroke="#000" stroke-width="1.83"/>
<line x1="2089.28" y1="619.76" x2="2089.28" y2="613.65" stroke="#000" stroke-width="1.83"/>
<line x1="2133.96" y1="619.76" x2="2133.96" y2="613.65" stroke="#000" stroke-width="1.83"/>
<line x1="1204.7" y1="615.6" x2="1210.81" y2="615.6" stroke="#000" stroke-width="1.83"/>
<line x1="1204.7" y1="597.54" x2="1210.81" y2="597.54" stroke="#000" stroke-width="1.83"/>
<line x1="1204.7" y1="579.48" x2="1210.81" y2="579.48" stroke="#000" stroke-width="1.83"/>
<line x1="1204.7" y1="561.42" x2="1210.81" y2="561.42" stroke="#000" stroke-width="1.83"/>
<line x1="1204.7" y1="543.36" x2="1210.81" y2="543.36" stroke="#000" stroke-width="1.83"/>
<line x1="1204.7" y1="525.3" x2="1210.81" y2="525.3" stroke="#000" stroke-width="1.83"/>
<line x1="1204.7" y1="507.24" x2="1210.81" y2="507.24" stroke="#000" stroke-width="1.83"/>
<line x1="1204.7" y1="489.18" x2="1210.81" y2="489.18" stroke="#000" stroke-width="1.83"/>
<line x1="1204.7" y1="471.12" x2="1210.81" y2="471.12" stroke="#000" stroke-width="1.83"/>
<line x1="1204.7" y1="453.06" x2="1210.81" y2="453.06" stroke="#000" stroke-width="1.83"/>
<line x1="1204.7" y1="435" x2="1210.81" y2="435" stroke="#000" stroke-width="1.83"/>
<line x1="1204.7" y1="416.94" x2="1210.81" y2="416.94" stroke="#000" stroke-width="1.83"/>
<line x1="1204.7" y1="398.88" x2="1210.81" y2="398.88" stroke="#000" stroke-width="1.83"/>
<line x1="1204.7" y1="380.82" x2="1210.81" y2="380.82" stroke="#000" stroke-width="1.83"/>
<line x1="1204.7" y1="362.76" x2="1210.81" y2="362.76" stroke="#000" stroke-width="1.83"/>
<line x1="1204.7" y1="344.7" x2="1210.81" y2="344.7" stroke="#000" stroke-width="1.83"/>
<line x1="1204.7" y1="326.64" x2="1210.81" y2="326.64" stroke="#000" stroke-width="1.83"/>
<line x1="1204.7" y1="615.6" x2="1215.39" y2="615.6" stroke="#000" stroke-width="2.44"/>
<line x1="1204.7" y1="525.3" x2="1215.39" y2="525.3" stroke="#000" stroke-width="2.44"/>
<line x1="1204.7" y1="435" x2="1215.39" y2="435" stroke="#000" stroke-width="2.44"/>
<line x1="1204.7" y1="344.7" x2="1215.39" y2="344.7" stroke="#000" stroke-width="2.44"/>
<g clip-path="url(#c11)"><path d="M1173.43,613.79 L1218.1,613.79 L1262.78,613.79 L1307.45,613.79 L1352.13,613.79 L1396.81,608.38 L1441.48,608.38 L1486.16,613.79 L1530.83,610.18 L1575.51,610.18 L1620.19,615.6 L1664.86,610.18 L1709.54,610.18 L1754.21,611.99 L1798.89,597.54 L1843.57,604.76 L1888.24,602.96 L1932.92,601.15 L1977.59,604.76 L2022.27,604.76 L2066.95,602.96 L2111.62,608.38 L2156.3,602.96 L2200.97,604.76" fill="none" stroke="#1f77b4" stroke-width="4.58" stroke-linecap="square" stroke-linejoin="round"/><path d="M1173.43,615.6 L1218.1,615.6 L1262.78,615.6 L1307.45,610.18 L1352.13,615.6 L1396.81,604.76 L1441.48,606.57 L1486.16,595.73 L1530.83,568.64 L1575.51,575.87 L1620.19,581.29 L1664.86,572.26 L1709.54,561.42 L1754.21,552.39 L1798.89,546.97 L1843.57,581.29 L1888.24,592.12 L1932.92,597.54 L1977.59,608.38 L2022.27,613.79 L2066.95,611.99 L2111.62,615.6 L2156.3,615.6 L2200.97,615.6" fill="none" stroke="#ff7f0e" stroke-width="4.58" stroke-linecap="square" stroke-linejoin="round"/><path d="M1173.43,615.6 L1218.1,615.6 L1262.78,615.6 L1307.45,615.6 L1352.13,615.6 L1396.81,615.6 L1441.48,615.6 L1486.16,615.6 L1530.83,595.73 L1575.51,516.27 L1620.19,444.03 L1664.86,397.07 L1709.54,386.24 L1754.21,584.9 L1798.89,615.6 L1843.57,615.6 L1888.24,615.6 L1932.92,615.6 L1977.59,615.6 L2022.27,615.6 L2066.95,615.6 L2111.62,615.6 L2156.3,615.6 L2200.97,615.6" fill="none" stroke="#2ca02c" stroke-width="4.58" stroke-linecap="square" stroke-linejoin="round"/><path d="M1173.43,613.79 L1218.1,613.79 L1262.78,613.79 L1307.45,608.38 L1352.13,613.79 L1396.81,597.54 L1441.48,599.35 L1486.16,593.93 L1530.83,543.36 L1575.51,471.12 L1620.19,409.72 L1664.86,348.31 L1709.54,326.64 L1754.21,518.08 L1798.89,528.91 L1843.57,570.45 L1888.24,579.48 L1932.92,583.09 L1977.59,597.54 L2022.27,602.96 L2066.95,599.35 L2111.62,608.38 L2156.3,602.96 L2200.97,604.76" fill="none" stroke="#000" stroke-width="4.58" stroke-dasharray="17,7.6" stroke-dashoffset="44.68" stroke-linecap="butt" stroke-linejoin="round"/></g>
<rect x="1204.7" y="310.48" width="965" height="309.28" fill="none" stroke="#000" stroke-width="2.44"/>
<text x="1194.01" y="627" font-size="31.4" text-anchor="end">0</text>
<text x="1194.01" y="536.7" font-size="31.4" text-anchor="end">50</text>
<text x="1194.01" y="446.4" font-size="31.4" text-anchor="end">100</text>
<text x="1194.01" y="356.1" font-size="31.4" text-anchor="end">150</text>
<text x="2089.2" y="540" font-size="37.7" fill="#bf00bf">pHe</text>
<line x1="1240.44" y1="929.04" x2="1240.44" y2="922.93" stroke="#000" stroke-width="1.83"/>
<line x1="1285.12" y1="929.04" x2="1285.12" y2="918.35" stroke="#000" stroke-width="2.44"/>
<line x1="1329.79" y1="929.04" x2="1329.79" y2="922.93" stroke="#000" stroke-width="1.83"/>
<line x1="1374.47" y1="929.04" x2="1374.47" y2="922.93" stroke="#000" stroke-width="1.83"/>
<line x1="1419.14" y1="929.04" x2="1419.14" y2="922.93" stroke="#000" stroke-width="1.83"/>
<line x1="1463.82" y1="929.04" x2="1463.82" y2="918.35" stroke="#000" stroke-width="2.44"/>
<line x1="1508.5" y1="929.04" x2="1508.5" y2="922.93" stroke="#000" stroke-width="1.83"/>
<line x1="1553.17" y1="929.04" x2="1553.17" y2="922.93" stroke="#000" stroke-width="1.83"/>
<line x1="1597.85" y1="929.04" x2="1597.85" y2="922.93" stroke="#000" stroke-width="1.83"/>
<line x1="1642.52" y1="929.04" x2="1642.52" y2="918.35" stroke="#000" stroke-width="2.44"/>
<line x1="1687.2" y1="929.04" x2="1687.2" y2="922.93" stroke="#000" stroke-width="1.83"/>
<line x1="1731.88" y1="929.04" x2="1731.88" y2="922.93" stroke="#000" stroke-width="1.83"/>
<line x1="1776.55" y1="929.04" x2="1776.55" y2="922.93" stroke="#000" stroke-width="1.83"/>
<line x1="1821.23" y1="929.04" x2="1821.23" y2="918.35" stroke="#000" stroke-width="2.44"/>
<line x1="1865.9" y1="929.04" x2="1865.9" y2="922.93" stroke="#000" stroke-width="1.83"/>
<line x1="1910.58" y1="929.04" x2="1910.58" y2="922.93" stroke="#000" stroke-width="1.83"/>
<line x1="1955.26" y1="929.04" x2="1955.26" y2="922.93" stroke="#000" stroke-width="1.83"/>
<line x1="1999.93" y1="929.04" x2="1999.93" y2="918.35" stroke="#000" stroke-width="2.44"/>
<line x1="2044.61" y1="929.04" x2="2044.61" y2="922.93" stroke="#000" stroke-width="1.83"/>
<line x1="2089.28" y1="929.04" x2="2089.28" y2="922.93" stroke="#000" stroke-width="1.83"/>
<line x1="2133.96" y1="929.04" x2="2133.96" y2="922.93" stroke="#000" stroke-width="1.83"/>
<line x1="1204.7" y1="921.5" x2="1210.81" y2="921.5" stroke="#000" stroke-width="1.83"/>
<line x1="1204.7" y1="904.57" x2="1210.81" y2="904.57" stroke="#000" stroke-width="1.83"/>
<line x1="1204.7" y1="887.63" x2="1210.81" y2="887.63" stroke="#000" stroke-width="1.83"/>
<line x1="1204.7" y1="870.69" x2="1210.81" y2="870.69" stroke="#000" stroke-width="1.83"/>
<line x1="1204.7" y1="853.76" x2="1210.81" y2="853.76" stroke="#000" stroke-width="1.83"/>
<line x1="1204.7" y1="836.83" x2="1210.81" y2="836.83" stroke="#000" stroke-width="1.83"/>
<line x1="1204.7" y1="819.89" x2="1210.81" y2="819.89" stroke="#000" stroke-width="1.83"/>
<line x1="1204.7" y1="802.95" x2="1210.81" y2="802.95" stroke="#000" stroke-width="1.83"/>
<line x1="1204.7" y1="786.02" x2="1210.81" y2="786.02" stroke="#000" stroke-width="1.83"/>
<line x1="1204.7" y1="769.09" x2="1210.81" y2="769.09" stroke="#000" stroke-width="1.83"/>
<line x1="1204.7" y1="752.15" x2="1210.81" y2="752.15" stroke="#000" stroke-width="1.83"/>
<line x1="1204.7" y1="735.21" x2="1210.81" y2="735.21" stroke="#000" stroke-width="1.83"/>
<line x1="1204.7" y1="718.28" x2="1210.81" y2="718.28" stroke="#000" stroke-width="1.83"/>
<line x1="1204.7" y1="701.35" x2="1210.81" y2="701.35" stroke="#000" stroke-width="1.83"/>
<line x1="1204.7" y1="684.41" x2="1210.81" y2="684.41" stroke="#000" stroke-width="1.83"/>
<line x1="1204.7" y1="667.48" x2="1210.81" y2="667.48" stroke="#000" stroke-width="1.83"/>
<line x1="1204.7" y1="650.54" x2="1210.81" y2="650.54" stroke="#000" stroke-width="1.83"/>
<line x1="1204.7" y1="633.61" x2="1210.81" y2="633.61" stroke="#000" stroke-width="1.83"/>
<line x1="1204.7" y1="921.5" x2="1215.39" y2="921.5" stroke="#000" stroke-width="2.44"/>
<line x1="1204.7" y1="819.89" x2="1215.39" y2="819.89" stroke="#000" stroke-width="2.44"/>
<line x1="1204.7" y1="718.28" x2="1215.39" y2="718.28" stroke="#000" stroke-width="2.44"/>
<g clip-path="url(#c12)"><path d="M1218.1,918.11 L1262.78,918.11 L1307.45,918.11 L1352.13,918.11 L1396.81,911.34 L1441.48,918.11 L1486.16,921.5 L1530.83,907.95 L1575.51,907.95 L1620.19,918.11 L1664.86,914.73 L1709.54,918.11 L1754.21,914.73 L1798.89,914.73 L1843.57,918.11 L1888.24,907.95 L1932.92,904.57 L1977.59,918.11 L2022.27,911.34 L2066.95,911.34 L2111.62,914.73 L2156.3,907.95 L2200.97,918.11" fill="none" stroke="#1f77b4" stroke-width="4.58" stroke-linecap="square" stroke-linejoin="round"/><path d="M1218.1,921.5 L1262.78,921.5 L1307.45,921.5 L1352.13,918.11 L1396.81,907.95 L1441.48,904.57 L1486.16,901.18 L1530.83,870.69 L1575.51,877.47 L1620.19,894.4 L1664.86,891.02 L1709.54,850.37 L1754.21,792.79 L1798.89,819.89 L1843.57,880.86 L1888.24,901.18 L1932.92,897.79 L1977.59,921.5 L2022.27,911.34 L2066.95,914.73 L2111.62,918.11 L2156.3,921.5 L2200.97,921.5" fill="none" stroke="#ff7f0e" stroke-width="4.58" stroke-linecap="square" stroke-linejoin="round"/><path d="M1218.1,921.5 L1262.78,921.5 L1307.45,921.5 L1352.13,921.5 L1396.81,921.5 L1441.48,921.5 L1486.16,921.5 L1530.83,911.34 L1575.51,830.05 L1620.19,687.8 L1664.86,674.25 L1709.54,769.09 L1754.21,867.31 L1798.89,921.5 L1843.57,921.5 L1888.24,921.5 L1932.92,921.5 L1977.59,921.5 L2022.27,921.5 L2066.95,921.5 L2111.62,921.5 L2156.3,921.5 L2200.97,921.5" fill="none" stroke="#2ca02c" stroke-width="4.58" stroke-linecap="square" stroke-linejoin="round"/><path d="M1218.1,918.11 L1262.78,918.11 L1307.45,918.11 L1352.13,914.73 L1396.81,897.79 L1441.48,901.18 L1486.16,901.18 L1530.83,846.99 L1575.51,772.47 L1620.19,657.31 L1664.86,636.99 L1709.54,694.57 L1754.21,731.83 L1798.89,813.12 L1843.57,877.47 L1888.24,887.63 L1932.92,880.86 L1977.59,918.11 L2022.27,901.18 L2066.95,904.57 L2111.62,911.34 L2156.3,907.95 L2200.97,918.11" fill="none" stroke="#000" stroke-width="4.58" stroke-dasharray="17,7.6" stroke-dashoffset="0" stroke-linecap="butt" stroke-linejoin="round"/></g>
<rect x="1204.7" y="619.76" width="965" height="309.28" fill="none" stroke="#000" stroke-width="2.44"/>
<text x="1194.01" y="932.9" font-size="31.4" text-anchor="end">0</text>
<text x="1194.01" y="831.29" font-size="31.4" text-anchor="end">30</text>
<text x="1194.01" y="729.68" font-size="31.4" text-anchor="end">60</text>
<text x="2089.2" y="847.5" font-size="37.7" fill="#bf00bf">wHe</text>
<line x1="1240.44" y1="1238.32" x2="1240.44" y2="1232.21" stroke="#000" stroke-width="1.83"/>
<line x1="1285.12" y1="1238.32" x2="1285.12" y2="1227.63" stroke="#000" stroke-width="2.44"/>
<line x1="1329.79" y1="1238.32" x2="1329.79" y2="1232.21" stroke="#000" stroke-width="1.83"/>
<line x1="1374.47" y1="1238.32" x2="1374.47" y2="1232.21" stroke="#000" stroke-width="1.83"/>
<line x1="1419.14" y1="1238.32" x2="1419.14" y2="1232.21" stroke="#000" stroke-width="1.83"/>
<line x1="1463.82" y1="1238.32" x2="1463.82" y2="1227.63" stroke="#000" stroke-width="2.44"/>
<line x1="1508.5" y1="1238.32" x2="1508.5" y2="1232.21" stroke="#000" stroke-width="1.83"/>
<line x1="1553.17" y1="1238.32" x2="1553.17" y2="1232.21" stroke="#000" stroke-width="1.83"/>
<line x1="1597.85" y1="1238.32" x2="1597.85" y2="1232.21" stroke="#000" stroke-width="1.83"/>
<line x1="1642.52" y1="1238.32" x2="1642.52" y2="1227.63" stroke="#000" stroke-width="2.44"/>
<line x1="1687.2" y1="1238.32" x2="1687.2" y2="1232.21" stroke="#000" stroke-width="1.83"/>
<line x1="1731.88" y1="1238.32" x2="1731.88" y2="1232.21" stroke="#000" stroke-width="1.83"/>
<line x1="1776.55" y1="1238.32" x2="1776.55" y2="1232.21" stroke="#000" stroke-width="1.83"/>
<line x1="1821.23" y1="1238.32" x2="1821.23" y2="1227.63" stroke="#000" stroke-width="2.44"/>
<line x1="1865.9" y1="1238.32" x2="1865.9" y2="1232.21" stroke="#000" stroke-width="1.83"/>
<line x1="1910.58" y1="1238.32" x2="1910.58" y2="1232.21" stroke="#000" stroke-width="1.83"/>
<line x1="1955.26" y1="1238.32" x2="1955.26" y2="1232.21" stroke="#000" stroke-width="1.83"/>
<line x1="1999.93" y1="1238.32" x2="1999.93" y2="1227.63" stroke="#000" stroke-width="2.44"/>
<line x1="2044.61" y1="1238.32" x2="2044.61" y2="1232.21" stroke="#000" stroke-width="1.83"/>
<line x1="2089.28" y1="1238.32" x2="2089.28" y2="1232.21" stroke="#000" stroke-width="1.83"/>
<line x1="2133.96" y1="1238.32" x2="2133.96" y2="1232.21" stroke="#000" stroke-width="1.83"/>
<line x1="1204.7" y1="1223" x2="1210.81" y2="1223" stroke="#000" stroke-width="1.83"/>
<line x1="1204.7" y1="1207.54" x2="1210.81" y2="1207.54" stroke="#000" stroke-width="1.83"/>
<line x1="1204.7" y1="1192.08" x2="1210.81" y2="1192.08" stroke="#000" stroke-width="1.83"/>
<line x1="1204.7" y1="1176.62" x2="1210.81" y2="1176.62" stroke="#000" stroke-width="1.83"/>
<line x1="1204.7" y1="1161.16" x2="1210.81" y2="1161.16" stroke="#000" stroke-width="1.83"/>
<line x1="1204.7" y1="1145.7" x2="1210.81" y2="1145.7" stroke="#000" stroke-width="1.83"/>
<line x1="1204.7" y1="1130.24" x2="1210.81" y2="1130.24" stroke="#000" stroke-width="1.83"/>
<line x1="1204.7" y1="1114.78" x2="1210.81" y2="1114.78" stroke="#000" stroke-width="1.83"/>
<line x1="1204.7" y1="1099.32" x2="1210.81" y2="1099.32" stroke="#000" stroke-width="1.83"/>
<line x1="1204.7" y1="1083.86" x2="1210.81" y2="1083.86" stroke="#000" stroke-width="1.83"/>
<line x1="1204.7" y1="1068.4" x2="1210.81" y2="1068.4" stroke="#000" stroke-width="1.83"/>
<line x1="1204.7" y1="1052.94" x2="1210.81" y2="1052.94" stroke="#000" stroke-width="1.83"/>
<line x1="1204.7" y1="1037.48" x2="1210.81" y2="1037.48" stroke="#000" stroke-width="1.83"/>
<line x1="1204.7" y1="1022.02" x2="1210.81" y2="1022.02" stroke="#000" stroke-width="1.83"/>
<line x1="1204.7" y1="1006.56" x2="1210.81" y2="1006.56" stroke="#000" stroke-width="1.83"/>
<line x1="1204.7" y1="991.1" x2="1210.81" y2="991.1" stroke="#000" stroke-width="1.83"/>
<line x1="1204.7" y1="975.64" x2="1210.81" y2="975.64" stroke="#000" stroke-width="1.83"/>
<line x1="1204.7" y1="960.18" x2="1210.81" y2="960.18" stroke="#000" stroke-width="1.83"/>
<line x1="1204.7" y1="944.72" x2="1210.81" y2="944.72" stroke="#000" stroke-width="1.83"/>
<line x1="1204.7" y1="929.26" x2="1210.81" y2="929.26" stroke="#000" stroke-width="1.83"/>
<line x1="1204.7" y1="1223" x2="1215.39" y2="1223" stroke="#000" stroke-width="2.44"/>
<line x1="1204.7" y1="1145.7" x2="1215.39" y2="1145.7" stroke="#000" stroke-width="2.44"/>
<line x1="1204.7" y1="1068.4" x2="1215.39" y2="1068.4" stroke="#000" stroke-width="2.44"/>
<line x1="1204.7" y1="991.1" x2="1215.39" y2="991.1" stroke="#000" stroke-width="2.44"/>
<g clip-path="url(#c13)"><path d="M1441.48,1192.08 L1486.16,1192.08 L1530.83,1223 L1575.51,1223 L1620.19,1207.54 L1664.86,1207.54 L1709.54,1223 L1754.21,1192.08 L1798.89,1161.16 L1843.57,1207.54 L1888.24,1207.54 L1932.92,1223 L1977.59,1192.08 L2111.62,1176.62 L2156.3,1192.08 L2200.97,1207.54" fill="none" stroke="#1f77b4" stroke-width="4.58" stroke-linecap="square" stroke-linejoin="round"/><path d="M1441.48,1223 L1486.16,1207.54 L1530.83,1207.54 L1575.51,1176.62 L1620.19,1223 L1664.86,1176.62 L1709.54,1130.24 L1754.21,1145.7 L1798.89,1145.7 L1843.57,1176.62 L1888.24,1176.62 L1932.92,1207.54 L1977.59,1223 L2111.62,1223 L2156.3,1223 L2200.97,1223" fill="none" stroke="#ff7f0e" stroke-width="4.58" stroke-linecap="square" stroke-linejoin="round"/><path d="M1441.48,1223 L1486.16,1223 L1530.83,1207.54 L1575.51,1130.24 L1620.19,1099.32 L1664.86,1022.02 L1709.54,1145.7 L1754.21,1207.54 L1798.89,1223 L1843.57,1223 L1888.24,1223 L1932.92,1223 L1977.59,1223 L2111.62,1223 L2156.3,1223 L2200.97,1223" fill="none" stroke="#2ca02c" stroke-width="4.58" stroke-linecap="square" stroke-linejoin="round"/><path d="M1441.48,1192.08 L1486.16,1176.62 L1530.83,1192.08 L1575.51,1083.86 L1620.19,1083.86 L1664.86,960.18 L1709.54,1052.94 L1754.21,1099.32 L1798.89,1083.86 L1843.57,1161.16 L1888.24,1161.16 L1932.92,1207.54 L1977.59,1192.08 L2111.62,1176.62 L2156.3,1192.08 L2200.97,1207.54" fill="none" stroke="#000" stroke-width="4.58" stroke-dasharray="17,7.6" stroke-dashoffset="0" stroke-linecap="butt" stroke-linejoin="round"/></g>
<rect x="1204.7" y="929.04" width="965" height="309.28" fill="none" stroke="#000" stroke-width="2.44"/>
<text x="1194.01" y="1234.4" font-size="31.4" text-anchor="end">0</text>
<text x="1194.01" y="1157.1" font-size="31.4" text-anchor="end">5</text>
<text x="1194.01" y="1079.8" font-size="31.4" text-anchor="end">10</text>
<text x="1194.01" y="1002.5" font-size="31.4" text-anchor="end">15</text>
<text x="2089.2" y="1145" font-size="37.7" fill="#bf00bf">iHe</text>
<line x1="1240.44" y1="1547.6" x2="1240.44" y2="1541.49" stroke="#000" stroke-width="1.83"/>
<line x1="1285.12" y1="1547.6" x2="1285.12" y2="1536.91" stroke="#000" stroke-width="2.44"/>
<line x1="1329.79" y1="1547.6" x2="1329.79" y2="1541.49" stroke="#000" stroke-width="1.83"/>
<line x1="1374.47" y1="1547.6" x2="1374.47" y2="1541.49" stroke="#000" stroke-width="1.83"/>
<line x1="1419.14" y1="1547.6" x2="1419.14" y2="1541.49" stroke="#000" stroke-width="1.83"/>
<line x1="1463.82" y1="1547.6" x2="1463.82" y2="1536.91" stroke="#000" stroke-width="2.44"/>
<line x1="1508.5" y1="1547.6" x2="1508.5" y2="1541.49" stroke="#000" stroke-width="1.83"/>
<line x1="1553.17" y1="1547.6" x2="1553.17" y2="1541.49" stroke="#000" stroke-width="1.83"/>
<line x1="1597.85" y1="1547.6" x2="1597.85" y2="1541.49" stroke="#000" stroke-width="1.83"/>
<line x1="1642.52" y1="1547.6" x2="1642.52" y2="1536.91" stroke="#000" stroke-width="2.44"/>
<line x1="1687.2" y1="1547.6" x2="1687.2" y2="1541.49" stroke="#000" stroke-width="1.83"/>
<line x1="1731.88" y1="1547.6" x2="1731.88" y2="1541.49" stroke="#000" stroke-width="1.83"/>
<line x1="1776.55" y1="1547.6" x2="1776.55" y2="1541.49" stroke="#000" stroke-width="1.83"/>
<line x1="1821.23" y1="1547.6" x2="1821.23" y2="1536.91" stroke="#000" stroke-width="2.44"/>
<line x1="1865.9" y1="1547.6" x2="1865.9" y2="1541.49" stroke="#000" stroke-width="1.83"/>
<line x1="1910.58" y1="1547.6" x2="1910.58" y2="1541.49" stroke="#000" stroke-width="1.83"/>
<line x1="1955.26" y1="1547.6" x2="1955.26" y2="1541.49" stroke="#000" stroke-width="1.83"/>
<line x1="1999.93" y1="1547.6" x2="1999.93" y2="1536.91" stroke="#000" stroke-width="2.44"/>
<line x1="2044.61" y1="1547.6" x2="2044.61" y2="1541.49" stroke="#000" stroke-width="1.83"/>
<line x1="2089.28" y1="1547.6" x2="2089.28" y2="1541.49" stroke="#000" stroke-width="1.83"/>
<line x1="2133.96" y1="1547.6" x2="2133.96" y2="1541.49" stroke="#000" stroke-width="1.83"/>
<line x1="1204.7" y1="1538" x2="1210.81" y2="1538" stroke="#000" stroke-width="1.83"/>
<line x1="1204.7" y1="1519.28" x2="1210.81" y2="1519.28" stroke="#000" stroke-width="1.83"/>
<line x1="1204.7" y1="1500.56" x2="1210.81" y2="1500.56" stroke="#000" stroke-width="1.83"/>
<line x1="1204.7" y1="1481.84" x2="1210.81" y2="1481.84" stroke="#000" stroke-width="1.83"/>
<line x1="1204.7" y1="1463.12" x2="1210.81" y2="1463.12" stroke="#000" stroke-width="1.83"/>
<line x1="1204.7" y1="1444.4" x2="1210.81" y2="1444.4" stroke="#000" stroke-width="1.83"/>
<line x1="1204.7" y1="1425.68" x2="1210.81" y2="1425.68" stroke="#000" stroke-width="1.83"/>
<line x1="1204.7" y1="1406.96" x2="1210.81" y2="1406.96" stroke="#000" stroke-width="1.83"/>
<line x1="1204.7" y1="1388.24" x2="1210.81" y2="1388.24" stroke="#000" stroke-width="1.83"/>
<line x1="1204.7" y1="1369.52" x2="1210.81" y2="1369.52" stroke="#000" stroke-width="1.83"/>
<line x1="1204.7" y1="1350.8" x2="1210.81" y2="1350.8" stroke="#000" stroke-width="1.83"/>
<line x1="1204.7" y1="1332.08" x2="1210.81" y2="1332.08" stroke="#000" stroke-width="1.83"/>
<line x1="1204.7" y1="1313.36" x2="1210.81" y2="1313.36" stroke="#000" stroke-width="1.83"/>
<line x1="1204.7" y1="1294.64" x2="1210.81" y2="1294.64" stroke="#000" stroke-width="1.83"/>
<line x1="1204.7" y1="1275.92" x2="1210.81" y2="1275.92" stroke="#000" stroke-width="1.83"/>
<line x1="1204.7" y1="1257.2" x2="1210.81" y2="1257.2" stroke="#000" stroke-width="1.83"/>
<line x1="1204.7" y1="1238.48" x2="1210.81" y2="1238.48" stroke="#000" stroke-width="1.83"/>
<line x1="1204.7" y1="1538" x2="1215.39" y2="1538" stroke="#000" stroke-width="2.44"/>
<line x1="1204.7" y1="1444.4" x2="1215.39" y2="1444.4" stroke="#000" stroke-width="2.44"/>
<line x1="1204.7" y1="1350.8" x2="1215.39" y2="1350.8" stroke="#000" stroke-width="2.44"/>
<line x1="1204.7" y1="1257.2" x2="1215.39" y2="1257.2" stroke="#000" stroke-width="2.44"/>
<g clip-path="url(#c14)"><path d="M1173.43,1528.64 L1262.78,1528.64 L1307.45,1538 L1352.13,1528.64 L1396.81,1528.64 L1441.48,1528.64 L1486.16,1538 L1530.83,1538 L1575.51,1538 L1620.19,1528.64 L1664.86,1519.28 L1709.54,1500.56 L1754.21,1528.64 L1798.89,1481.84 L1843.57,1500.56 L1888.24,1463.12 L1932.92,1519.28 L1977.59,1528.64 L2022.27,1528.64 L2066.95,1453.76 L2156.3,1519.28 L2200.97,1509.92" fill="none" stroke="#1f77b4" stroke-width="4.58" stroke-linecap="square" stroke-linejoin="round"/><path d="M1173.43,1538 L1262.78,1528.64 L1307.45,1528.64 L1352.13,1528.64 L1396.81,1538 L1441.48,1509.92 L1486.16,1500.56 L1530.83,1416.32 L1575.51,1472.48 L1620.19,1519.28 L1664.86,1509.92 L1709.54,1472.48 L1754.21,1397.6 L1798.89,1425.68 L1843.57,1463.12 L1888.24,1519.28 L1932.92,1528.64 L1977.59,1491.2 L2022.27,1538 L2066.95,1538 L2156.3,1538 L2200.97,1538" fill="none" stroke="#ff7f0e" stroke-width="4.58" stroke-linecap="square" stroke-linejoin="round"/><path d="M1173.43,1538 L1262.78,1538 L1307.45,1538 L1352.13,1538 L1396.81,1538 L1441.48,1538 L1486.16,1538 L1530.83,1538 L1575.51,1416.32 L1620.19,1285.28 L1664.86,1350.8 L1709.54,1369.52 L1754.21,1463.12 L1798.89,1538 L1843.57,1538 L1888.24,1538 L1932.92,1538 L1977.59,1538 L2022.27,1538 L2066.95,1538 L2156.3,1538 L2200.97,1538" fill="none" stroke="#2ca02c" stroke-width="4.58" stroke-linecap="square" stroke-linejoin="round"/><path d="M1173.43,1528.64 L1262.78,1519.28 L1307.45,1528.64 L1352.13,1519.28 L1396.81,1528.64 L1441.48,1500.56 L1486.16,1500.56 L1530.83,1416.32 L1575.51,1350.8 L1620.19,1257.2 L1664.86,1304 L1709.54,1266.56 L1754.21,1313.36 L1798.89,1369.52 L1843.57,1425.68 L1888.24,1444.4 L1932.92,1509.92 L1977.59,1481.84 L2022.27,1528.64 L2066.95,1453.76 L2156.3,1519.28 L2200.97,1509.92" fill="none" stroke="#000" stroke-width="4.58" stroke-dasharray="17,7.6" stroke-dashoffset="44.68" stroke-linecap="butt" stroke-linejoin="round"/></g>
<rect x="1204.7" y="1238.32" width="965" height="309.28" fill="none" stroke="#000" stroke-width="2.44"/>
<text x="1194.01" y="1549.4" font-size="31.4" text-anchor="end">0</text>
<text x="1194.01" y="1455.8" font-size="31.4" text-anchor="end">10</text>
<text x="1194.01" y="1362.2" font-size="31.4" text-anchor="end">20</text>
<text x="1194.01" y="1268.6" font-size="31.4" text-anchor="end">30</text>
<text x="2089.2" y="1463.75" font-size="37.7" fill="#bf00bf">eHe</text>
<text x="1285.12" y="1582" font-size="31.4" text-anchor="middle">−4</text>
<text x="1463.82" y="1582" font-size="31.4" text-anchor="middle">−2</text>
<text x="1642.52" y="1582" font-size="31.4" text-anchor="middle">0</text>
<text x="1821.23" y="1582" font-size="31.4" text-anchor="middle">2</text>
<text x="1999.93" y="1582" font-size="31.4" text-anchor="middle">4</text>
<text x="1686" y="1624.6" font-size="31.4" text-anchor="middle"><tspan font-style="italic">Z</tspan><tspan dx="4.1"> (kpc)</tspan></text>
<text transform="translate(23.5,776) rotate(-90)" font-size="31.4" text-anchor="middle" xml:space="preserve" style="white-space:pre">Relative Fraction  (%)</text>
<text transform="translate(1134.6,774.65) rotate(-90)" font-size="31.4" text-anchor="middle" textLength="384.5" lengthAdjust="spacing">Relative Number of stars</text>
<g>
<rect x="1216.3" y="13" width="214" height="154" rx="5.56" fill="#fff" fill-opacity="0.8" stroke="#cccccc" stroke-width="2.22"/>
<line x1="1226.1" y1="33.5" x2="1276.7" y2="33.5" stroke="#1f77b4" stroke-width="4.58" stroke-linecap="square"/>
<line x1="1226.1" y1="70" x2="1276.7" y2="70" stroke="#ff7f0e" stroke-width="4.58" stroke-linecap="square"/>
<line x1="1226.1" y1="106.5" x2="1276.7" y2="106.5" stroke="#2ca02c" stroke-width="4.58" stroke-linecap="square"/>
<line x1="1226.6" y1="142.6" x2="1276.6" y2="142.6" stroke="#000" stroke-width="4.58" stroke-dasharray="17,7.6"/>
<text x="1296" y="42" font-size="24.85">Halo</text>
<text x="1296" y="78.7" font-size="24.85">Thick disk</text>
<text x="1296" y="115" font-size="24.85">Thin disk</text>
<text x="1296" y="151.7" font-size="24.85">All</text>
</g>
</svg></body></html>
